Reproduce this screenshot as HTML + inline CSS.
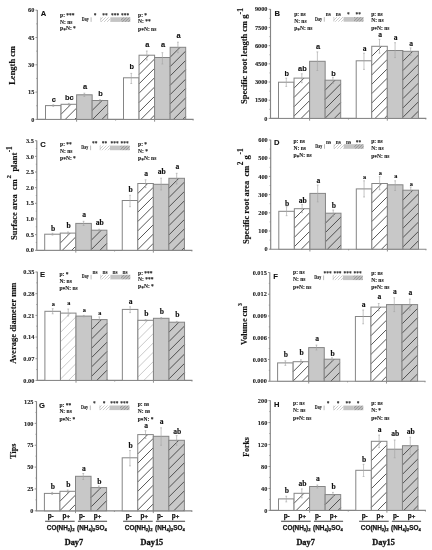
<!DOCTYPE html>
<html><head><meta charset="utf-8"><title>Root traits</title>
<style>html,body{margin:0;padding:0;background:#fff;} body{width:432px;height:550px;overflow:hidden;} svg{display:block;filter:blur(0.3px);}</style>
</head><body>
<svg width="432" height="550" viewBox="0 0 432 550"><defs>
<pattern id="lw" patternUnits="userSpaceOnUse" width="3" height="3"><rect width="3" height="3" fill="#fff"/><path d="M0,3 L3,0" stroke="#999" stroke-width="0.5"/></pattern>
<pattern id="lg" patternUnits="userSpaceOnUse" width="3" height="3"><rect width="3" height="3" fill="#bdbdbd"/><path d="M0,3 L3,0" stroke="#777" stroke-width="0.5"/></pattern>
</defs><path d="M37.3,9.9 V119.4 H193.6" fill="none" stroke="#858585" stroke-width="1.15"/>
<path d="M35.5,119.4 H37.3" stroke="#858585" stroke-width="0.9"/>
<text x="34.3" y="121.55" font-size="6.3" font-family="'Liberation Serif', 'Times New Roman', serif" font-weight="bold" text-anchor="end" fill="#1a1a1a" stroke="#1a1a1a" stroke-width="0.1">0</text>
<path d="M36.3,105.75 H37.3" stroke="#858585" stroke-width="0.8"/>
<path d="M35.5,92.1 H37.3" stroke="#858585" stroke-width="0.9"/>
<text x="34.3" y="94.25" font-size="6.3" font-family="'Liberation Serif', 'Times New Roman', serif" font-weight="bold" text-anchor="end" fill="#1a1a1a" stroke="#1a1a1a" stroke-width="0.1">15</text>
<path d="M36.3,78.45 H37.3" stroke="#858585" stroke-width="0.8"/>
<path d="M35.5,64.8 H37.3" stroke="#858585" stroke-width="0.9"/>
<text x="34.3" y="66.95" font-size="6.3" font-family="'Liberation Serif', 'Times New Roman', serif" font-weight="bold" text-anchor="end" fill="#1a1a1a" stroke="#1a1a1a" stroke-width="0.1">30</text>
<path d="M36.3,51.15 H37.3" stroke="#858585" stroke-width="0.8"/>
<path d="M35.5,37.5 H37.3" stroke="#858585" stroke-width="0.9"/>
<text x="34.3" y="39.65" font-size="6.3" font-family="'Liberation Serif', 'Times New Roman', serif" font-weight="bold" text-anchor="end" fill="#1a1a1a" stroke="#1a1a1a" stroke-width="0.1">45</text>
<path d="M36.3,23.85 H37.3" stroke="#858585" stroke-width="0.8"/>
<path d="M35.5,10.2 H37.3" stroke="#858585" stroke-width="0.9"/>
<text x="34.3" y="12.35" font-size="6.3" font-family="'Liberation Serif', 'Times New Roman', serif" font-weight="bold" text-anchor="end" fill="#1a1a1a" stroke="#1a1a1a" stroke-width="0.1">60</text>
<path d="M76.6,119.4 V121.7" stroke="#858585" stroke-width="0.9"/>
<path d="M154.6,119.4 V121.7" stroke="#858585" stroke-width="0.9"/>
<path d="M115.6,119.4 V120.6" stroke="#858585" stroke-width="0.8"/>
<path d="M193.1,119.4 V120.6" stroke="#858585" stroke-width="0.8"/>
<rect x="45.5" y="105.6" width="15.55" height="13.8" fill="#fff"/>
<rect x="45.5" y="105.6" width="15.55" height="13.8" fill="none" stroke="#858585" stroke-width="1"/>
<path d="M53.27,104.8 V106.4 M52.38,104.8 H54.17 M52.38,106.4 H54.17" stroke="#a6a6a6" stroke-width="0.65" fill="none"/>
<text x="53.88" y="102" font-size="7.4" font-family="'Liberation Sans', Arial, sans-serif" font-weight="bold" text-anchor="middle" fill="#111" stroke="#111" stroke-width="0.12">c</text>
<rect x="61.05" y="104.3" width="15.55" height="15.1" fill="#fff"/>
<path d="M61.05,114.25 L71,104.3 M65.25,119.4 L76.6,108.05 M74.6,119.4 L76.6,117.4" stroke="#383838" stroke-width="0.85" fill="none"/>
<rect x="61.05" y="104.3" width="15.55" height="15.1" fill="none" stroke="#858585" stroke-width="1"/>
<path d="M68.83,103.4 V105.2 M67.92,103.4 H69.73 M67.92,105.2 H69.73" stroke="#a6a6a6" stroke-width="0.65" fill="none"/>
<text x="69.42" y="100.4" font-size="7.4" font-family="'Liberation Sans', Arial, sans-serif" font-weight="bold" text-anchor="middle" fill="#111" stroke="#111" stroke-width="0.12">bc</text>
<rect x="76.6" y="94.8" width="15.55" height="24.6" fill="#c8c8c8"/>
<rect x="76.6" y="94.8" width="15.55" height="24.6" fill="none" stroke="#858585" stroke-width="1"/>
<path d="M84.38,93.2 V96.5 M83.47,93.2 H85.28 M83.47,96.5 H85.28" stroke="#a6a6a6" stroke-width="0.65" fill="none"/>
<text x="84.97" y="88.5" font-size="7.4" font-family="'Liberation Sans', Arial, sans-serif" font-weight="bold" text-anchor="middle" fill="#111" stroke="#111" stroke-width="0.12">a</text>
<rect x="92.15" y="100.5" width="15.55" height="18.9" fill="#c8c8c8"/>
<path d="M92.15,110.45 L102.1,100.5 M92.55,119.4 L107.7,104.25 M101.9,119.4 L107.7,113.6" stroke="#383838" stroke-width="0.85" fill="none"/>
<rect x="92.15" y="100.5" width="15.55" height="18.9" fill="none" stroke="#858585" stroke-width="1"/>
<path d="M99.93,99.7 V101.4 M99.03,99.7 H100.83 M99.03,101.4 H100.83" stroke="#a6a6a6" stroke-width="0.65" fill="none"/>
<text x="100.53" y="95.9" font-size="7.4" font-family="'Liberation Sans', Arial, sans-serif" font-weight="bold" text-anchor="middle" fill="#111" stroke="#111" stroke-width="0.12">b</text>
<rect x="123.5" y="77.8" width="15.55" height="41.6" fill="#fff"/>
<rect x="123.5" y="77.8" width="15.55" height="41.6" fill="none" stroke="#858585" stroke-width="1"/>
<path d="M131.28,73.4 V83.5 M130.38,73.4 H132.18 M130.38,83.5 H132.18" stroke="#a6a6a6" stroke-width="0.65" fill="none"/>
<text x="131.88" y="69.3" font-size="7.4" font-family="'Liberation Sans', Arial, sans-serif" font-weight="bold" text-anchor="middle" fill="#111" stroke="#111" stroke-width="0.12">b</text>
<rect x="139.05" y="55.2" width="15.55" height="64.2" fill="#fff"/>
<path d="M139.05,65.15 L149,55.2 M139.05,74.5 L154.6,58.95 M139.05,83.85 L154.6,68.3 M139.05,93.2 L154.6,77.65 M139.05,102.55 L154.6,87 M139.05,111.9 L154.6,96.35 M140.9,119.4 L154.6,105.7 M150.25,119.4 L154.6,115.05" stroke="#383838" stroke-width="0.85" fill="none"/>
<rect x="139.05" y="55.2" width="15.55" height="64.2" fill="none" stroke="#858585" stroke-width="1"/>
<path d="M146.83,51 V60 M145.93,51 H147.73 M145.93,60 H147.73" stroke="#a6a6a6" stroke-width="0.65" fill="none"/>
<text x="147.43" y="47.1" font-size="7.4" font-family="'Liberation Sans', Arial, sans-serif" font-weight="bold" text-anchor="middle" fill="#111" stroke="#111" stroke-width="0.12">a</text>
<rect x="154.6" y="57.5" width="15.55" height="61.9" fill="#c8c8c8"/>
<rect x="154.6" y="57.5" width="15.55" height="61.9" fill="none" stroke="#858585" stroke-width="1"/>
<path d="M162.38,52.7 V64 M161.47,52.7 H163.28 M161.47,64 H163.28" stroke="#a6a6a6" stroke-width="0.65" fill="none"/>
<text x="162.97" y="47.1" font-size="7.4" font-family="'Liberation Sans', Arial, sans-serif" font-weight="bold" text-anchor="middle" fill="#111" stroke="#111" stroke-width="0.12">a</text>
<rect x="170.15" y="47.3" width="15.55" height="72.1" fill="#c8c8c8"/>
<path d="M170.15,57.25 L180.1,47.3 M170.15,66.6 L185.7,51.05 M170.15,75.95 L185.7,60.4 M170.15,85.3 L185.7,69.75 M170.15,94.65 L185.7,79.1 M170.15,104 L185.7,88.45 M170.15,113.35 L185.7,97.8 M173.45,119.4 L185.7,107.15 M182.8,119.4 L185.7,116.5" stroke="#383838" stroke-width="0.85" fill="none"/>
<rect x="170.15" y="47.3" width="15.55" height="72.1" fill="none" stroke="#858585" stroke-width="1"/>
<path d="M177.93,42.2 V52.7 M177.03,42.2 H178.83 M177.03,52.7 H178.83" stroke="#a6a6a6" stroke-width="0.65" fill="none"/>
<text x="178.53" y="37.7" font-size="7.4" font-family="'Liberation Sans', Arial, sans-serif" font-weight="bold" text-anchor="middle" fill="#111" stroke="#111" stroke-width="0.12">a</text>
<text x="40.8" y="15.6" font-size="7.6" font-family="'Liberation Sans', Arial, sans-serif" font-weight="bold" text-anchor="start" fill="#111" stroke="#111" stroke-width="0.1">A</text>
<text x="60.1" y="17.1" font-size="5.5" font-family="'Liberation Serif', 'Times New Roman', serif" font-weight="bold" text-anchor="start" fill="#1a1a1a" stroke="#1a1a1a" stroke-width="0.1">p: ***</text>
<text x="60.1" y="23.7" font-size="5.5" font-family="'Liberation Serif', 'Times New Roman', serif" font-weight="bold" text-anchor="start" fill="#1a1a1a" stroke="#1a1a1a" stroke-width="0.1">N: ns</text>
<text x="60.1" y="30.3" font-size="5.5" font-family="'Liberation Serif', 'Times New Roman', serif" font-weight="bold" text-anchor="start" fill="#1a1a1a" stroke="#1a1a1a" stroke-width="0.1">p<tspan dy="1.3">*</tspan><tspan dy="-1.3">N</tspan>: *</text>
<text x="138.1" y="16.6" font-size="5.5" font-family="'Liberation Serif', 'Times New Roman', serif" font-weight="bold" text-anchor="start" fill="#1a1a1a" stroke="#1a1a1a" stroke-width="0.1">p: *</text>
<text x="138.1" y="23" font-size="5.5" font-family="'Liberation Serif', 'Times New Roman', serif" font-weight="bold" text-anchor="start" fill="#1a1a1a" stroke="#1a1a1a" stroke-width="0.1">N: **</text>
<text x="138.1" y="30.6" font-size="5.5" font-family="'Liberation Serif', 'Times New Roman', serif" font-weight="bold" text-anchor="start" fill="#1a1a1a" stroke="#1a1a1a" stroke-width="0.1">p<tspan dy="1.3">*</tspan><tspan dy="-1.3">N</tspan>: ns</text>
<text x="81.85" y="20.9" font-size="5.5" font-family="'Liberation Serif', 'Times New Roman', serif" font-weight="bold" text-anchor="start" fill="#1a1a1a" stroke="#1a1a1a" stroke-width="0.1" textLength="7" lengthAdjust="spacingAndGlyphs">Day</text>
<rect x="90.7" y="17.3" width="9.7" height="4.6" fill="#fff"/>
<rect x="100.4" y="17.3" width="10" height="4.6" fill="url(#lw)"/>
<rect x="110.4" y="17.3" width="10.3" height="4.6" fill="#c4c4c4"/>
<rect x="120.7" y="17.3" width="9.6" height="4.6" fill="url(#lg)"/>
<path d="M91.1,17.3 V21.9" stroke="#aaa" stroke-width="0.8"/>
<path d="M100.7,17.3 V21.9" stroke="#bbb" stroke-width="0.6"/>
<text x="95.15" y="16.6" font-size="5.4" font-family="'Liberation Serif', 'Times New Roman', serif" font-weight="bold" text-anchor="middle" fill="#222" stroke="#222" stroke-width="0.05">*</text>
<text x="105" y="16.6" font-size="5.4" font-family="'Liberation Serif', 'Times New Roman', serif" font-weight="bold" text-anchor="middle" fill="#222" stroke="#222" stroke-width="0.05">**</text>
<text x="115.15" y="16.6" font-size="5.4" font-family="'Liberation Serif', 'Times New Roman', serif" font-weight="bold" text-anchor="middle" fill="#222" stroke="#222" stroke-width="0.05">***</text>
<text x="125.1" y="16.6" font-size="5.4" font-family="'Liberation Serif', 'Times New Roman', serif" font-weight="bold" text-anchor="middle" fill="#222" stroke="#222" stroke-width="0.05">***</text>
<path d="M270.5,9 V118.4 H426.3" fill="none" stroke="#858585" stroke-width="1.15"/>
<path d="M268.7,118.4 H270.5" stroke="#858585" stroke-width="0.9"/>
<text x="267.5" y="120.55" font-size="6.3" font-family="'Liberation Serif', 'Times New Roman', serif" font-weight="bold" text-anchor="end" fill="#1a1a1a" stroke="#1a1a1a" stroke-width="0.1">0</text>
<path d="M269.5,109.31 H270.5" stroke="#858585" stroke-width="0.8"/>
<path d="M268.7,100.22 H270.5" stroke="#858585" stroke-width="0.9"/>
<text x="267.5" y="102.37" font-size="6.3" font-family="'Liberation Serif', 'Times New Roman', serif" font-weight="bold" text-anchor="end" fill="#1a1a1a" stroke="#1a1a1a" stroke-width="0.1">1500</text>
<path d="M269.5,91.12 H270.5" stroke="#858585" stroke-width="0.8"/>
<path d="M268.7,82.03 H270.5" stroke="#858585" stroke-width="0.9"/>
<text x="267.5" y="84.18" font-size="6.3" font-family="'Liberation Serif', 'Times New Roman', serif" font-weight="bold" text-anchor="end" fill="#1a1a1a" stroke="#1a1a1a" stroke-width="0.1">3000</text>
<path d="M269.5,72.94 H270.5" stroke="#858585" stroke-width="0.8"/>
<path d="M268.7,63.85 H270.5" stroke="#858585" stroke-width="0.9"/>
<text x="267.5" y="66" font-size="6.3" font-family="'Liberation Serif', 'Times New Roman', serif" font-weight="bold" text-anchor="end" fill="#1a1a1a" stroke="#1a1a1a" stroke-width="0.1">4500</text>
<path d="M269.5,54.76 H270.5" stroke="#858585" stroke-width="0.8"/>
<path d="M268.7,45.67 H270.5" stroke="#858585" stroke-width="0.9"/>
<text x="267.5" y="47.82" font-size="6.3" font-family="'Liberation Serif', 'Times New Roman', serif" font-weight="bold" text-anchor="end" fill="#1a1a1a" stroke="#1a1a1a" stroke-width="0.1">6000</text>
<path d="M269.5,36.58 H270.5" stroke="#858585" stroke-width="0.8"/>
<path d="M268.7,27.48 H270.5" stroke="#858585" stroke-width="0.9"/>
<text x="267.5" y="29.63" font-size="6.3" font-family="'Liberation Serif', 'Times New Roman', serif" font-weight="bold" text-anchor="end" fill="#1a1a1a" stroke="#1a1a1a" stroke-width="0.1">7500</text>
<path d="M269.5,18.39 H270.5" stroke="#858585" stroke-width="0.8"/>
<path d="M268.7,9.3 H270.5" stroke="#858585" stroke-width="0.9"/>
<text x="267.5" y="11.45" font-size="6.3" font-family="'Liberation Serif', 'Times New Roman', serif" font-weight="bold" text-anchor="end" fill="#1a1a1a" stroke="#1a1a1a" stroke-width="0.1">9000</text>
<path d="M309.6,118.4 V120.7" stroke="#858585" stroke-width="0.9"/>
<path d="M387.3,118.4 V120.7" stroke="#858585" stroke-width="0.9"/>
<path d="M348.45,118.4 V119.6" stroke="#858585" stroke-width="0.8"/>
<path d="M425.8,118.4 V119.6" stroke="#858585" stroke-width="0.8"/>
<rect x="278.5" y="82.2" width="15.55" height="36.2" fill="#fff"/>
<rect x="278.5" y="82.2" width="15.55" height="36.2" fill="none" stroke="#858585" stroke-width="1"/>
<path d="M286.27,78.1 V86.4 M285.38,78.1 H287.17 M285.38,86.4 H287.17" stroke="#a6a6a6" stroke-width="0.65" fill="none"/>
<text x="286.88" y="75.8" font-size="7.4" font-family="'Liberation Sans', Arial, sans-serif" font-weight="bold" text-anchor="middle" fill="#111" stroke="#111" stroke-width="0.12">b</text>
<rect x="294.05" y="78.1" width="15.55" height="40.3" fill="#fff"/>
<path d="M294.05,88.05 L304,78.1 M294.05,97.4 L309.6,81.85 M294.05,106.75 L309.6,91.2 M294.05,116.1 L309.6,100.55 M301.1,118.4 L309.6,109.9" stroke="#383838" stroke-width="0.85" fill="none"/>
<rect x="294.05" y="78.1" width="15.55" height="40.3" fill="none" stroke="#858585" stroke-width="1"/>
<path d="M301.82,73.8 V82.7 M300.93,73.8 H302.72 M300.93,82.7 H302.72" stroke="#a6a6a6" stroke-width="0.65" fill="none"/>
<text x="302.43" y="71.4" font-size="7.4" font-family="'Liberation Sans', Arial, sans-serif" font-weight="bold" text-anchor="middle" fill="#111" stroke="#111" stroke-width="0.12">ab</text>
<rect x="309.6" y="61.3" width="15.55" height="57.1" fill="#c8c8c8"/>
<rect x="309.6" y="61.3" width="15.55" height="57.1" fill="none" stroke="#858585" stroke-width="1"/>
<path d="M317.38,51.9 V70.5 M316.48,51.9 H318.27 M316.48,70.5 H318.27" stroke="#a6a6a6" stroke-width="0.65" fill="none"/>
<text x="317.98" y="49" font-size="7.4" font-family="'Liberation Sans', Arial, sans-serif" font-weight="bold" text-anchor="middle" fill="#111" stroke="#111" stroke-width="0.12">a</text>
<rect x="325.15" y="80.2" width="15.55" height="38.2" fill="#c8c8c8"/>
<path d="M325.15,90.15 L335.1,80.2 M325.15,99.5 L340.7,83.95 M325.15,108.85 L340.7,93.3 M325.15,118.2 L340.7,102.65 M334.3,118.4 L340.7,112" stroke="#383838" stroke-width="0.85" fill="none"/>
<rect x="325.15" y="80.2" width="15.55" height="38.2" fill="none" stroke="#858585" stroke-width="1"/>
<path d="M332.92,77.3 V83.5 M332.02,77.3 H333.82 M332.02,83.5 H333.82" stroke="#a6a6a6" stroke-width="0.65" fill="none"/>
<text x="333.52" y="75.5" font-size="7.4" font-family="'Liberation Sans', Arial, sans-serif" font-weight="bold" text-anchor="middle" fill="#111" stroke="#111" stroke-width="0.12">b</text>
<rect x="356.2" y="60.8" width="15.55" height="57.6" fill="#fff"/>
<rect x="356.2" y="60.8" width="15.55" height="57.6" fill="none" stroke="#858585" stroke-width="1"/>
<path d="M363.97,53.2 V69.4 M363.07,53.2 H364.87 M363.07,69.4 H364.87" stroke="#a6a6a6" stroke-width="0.65" fill="none"/>
<text x="364.57" y="51.2" font-size="7.6" font-family="'Liberation Serif', 'Times New Roman', serif" font-weight="bold" text-anchor="middle" fill="#111" stroke="#111" stroke-width="0.12">a</text>
<rect x="371.75" y="46.3" width="15.55" height="72.1" fill="#fff"/>
<path d="M371.75,56.25 L381.7,46.3 M371.75,65.6 L387.3,50.05 M371.75,74.95 L387.3,59.4 M371.75,84.3 L387.3,68.75 M371.75,93.65 L387.3,78.1 M371.75,103 L387.3,87.45 M371.75,112.35 L387.3,96.8 M375.05,118.4 L387.3,106.15 M384.4,118.4 L387.3,115.5" stroke="#383838" stroke-width="0.85" fill="none"/>
<rect x="371.75" y="46.3" width="15.55" height="72.1" fill="none" stroke="#858585" stroke-width="1"/>
<path d="M379.52,39.4 V53.2 M378.62,39.4 H380.42 M378.62,53.2 H380.42" stroke="#a6a6a6" stroke-width="0.65" fill="none"/>
<text x="380.12" y="36.6" font-size="7.6" font-family="'Liberation Serif', 'Times New Roman', serif" font-weight="bold" text-anchor="middle" fill="#111" stroke="#111" stroke-width="0.12">a</text>
<rect x="387.3" y="50.5" width="15.55" height="67.9" fill="#c8c8c8"/>
<rect x="387.3" y="50.5" width="15.55" height="67.9" fill="none" stroke="#858585" stroke-width="1"/>
<path d="M395.07,42.7 V57.6 M394.18,42.7 H395.97 M394.18,57.6 H395.97" stroke="#a6a6a6" stroke-width="0.65" fill="none"/>
<text x="395.68" y="40.3" font-size="7.6" font-family="'Liberation Serif', 'Times New Roman', serif" font-weight="bold" text-anchor="middle" fill="#111" stroke="#111" stroke-width="0.12">a</text>
<rect x="402.85" y="51.3" width="15.55" height="67.1" fill="#c8c8c8"/>
<path d="M402.85,61.25 L412.8,51.3 M402.85,70.6 L418.4,55.05 M402.85,79.95 L418.4,64.4 M402.85,89.3 L418.4,73.75 M402.85,98.65 L418.4,83.1 M402.85,108 L418.4,92.45 M402.85,117.35 L418.4,101.8 M411.15,118.4 L418.4,111.15" stroke="#383838" stroke-width="0.85" fill="none"/>
<rect x="402.85" y="51.3" width="15.55" height="67.1" fill="none" stroke="#858585" stroke-width="1"/>
<path d="M410.62,47.9 V55.3 M409.73,47.9 H411.52 M409.73,55.3 H411.52" stroke="#a6a6a6" stroke-width="0.65" fill="none"/>
<text x="411.23" y="45.9" font-size="7.6" font-family="'Liberation Serif', 'Times New Roman', serif" font-weight="bold" text-anchor="middle" fill="#111" stroke="#111" stroke-width="0.12">a</text>
<text x="274.6" y="15.6" font-size="7.6" font-family="'Liberation Sans', Arial, sans-serif" font-weight="bold" text-anchor="start" fill="#111" stroke="#111" stroke-width="0.1">B</text>
<text x="294.2" y="16.1" font-size="5.5" font-family="'Liberation Serif', 'Times New Roman', serif" font-weight="bold" text-anchor="start" fill="#1a1a1a" stroke="#1a1a1a" stroke-width="0.1">p: ns</text>
<text x="294.2" y="23.1" font-size="5.5" font-family="'Liberation Serif', 'Times New Roman', serif" font-weight="bold" text-anchor="start" fill="#1a1a1a" stroke="#1a1a1a" stroke-width="0.1">N: ns</text>
<text x="294.2" y="30.3" font-size="5.5" font-family="'Liberation Serif', 'Times New Roman', serif" font-weight="bold" text-anchor="start" fill="#1a1a1a" stroke="#1a1a1a" stroke-width="0.1">p<tspan dy="1.3">*</tspan><tspan dy="-1.3">N</tspan>: ns</text>
<text x="371.2" y="15.8" font-size="5.5" font-family="'Liberation Serif', 'Times New Roman', serif" font-weight="bold" text-anchor="start" fill="#1a1a1a" stroke="#1a1a1a" stroke-width="0.1">p: ns</text>
<text x="371.2" y="22.4" font-size="5.5" font-family="'Liberation Serif', 'Times New Roman', serif" font-weight="bold" text-anchor="start" fill="#1a1a1a" stroke="#1a1a1a" stroke-width="0.1">N: ns</text>
<text x="371.2" y="29.7" font-size="5.5" font-family="'Liberation Serif', 'Times New Roman', serif" font-weight="bold" text-anchor="start" fill="#1a1a1a" stroke="#1a1a1a" stroke-width="0.1">p<tspan dy="1.3">*</tspan><tspan dy="-1.3">N</tspan>: ns</text>
<text x="315.05" y="20.7" font-size="5.5" font-family="'Liberation Serif', 'Times New Roman', serif" font-weight="bold" text-anchor="start" fill="#1a1a1a" stroke="#1a1a1a" stroke-width="0.1" textLength="7" lengthAdjust="spacingAndGlyphs">Day</text>
<rect x="323.9" y="17.1" width="9.7" height="4.6" fill="#fff"/>
<rect x="333.6" y="17.1" width="10" height="4.6" fill="url(#lw)"/>
<rect x="343.6" y="17.1" width="10.3" height="4.6" fill="#c4c4c4"/>
<rect x="353.9" y="17.1" width="9.6" height="4.6" fill="url(#lg)"/>
<path d="M324.3,17.1 V21.7" stroke="#aaa" stroke-width="0.8"/>
<path d="M333.9,17.1 V21.7" stroke="#bbb" stroke-width="0.6"/>
<text x="328.35" y="16.4" font-size="5.4" font-family="'Liberation Serif', 'Times New Roman', serif" font-weight="bold" text-anchor="middle" fill="#222" stroke="#222" stroke-width="0.05">ns</text>
<text x="338.2" y="16.4" font-size="5.4" font-family="'Liberation Serif', 'Times New Roman', serif" font-weight="bold" text-anchor="middle" fill="#222" stroke="#222" stroke-width="0.05">ns</text>
<text x="348.35" y="16.4" font-size="5.4" font-family="'Liberation Serif', 'Times New Roman', serif" font-weight="bold" text-anchor="middle" fill="#222" stroke="#222" stroke-width="0.05">*</text>
<text x="358.3" y="16.4" font-size="5.4" font-family="'Liberation Serif', 'Times New Roman', serif" font-weight="bold" text-anchor="middle" fill="#222" stroke="#222" stroke-width="0.05">**</text>
<path d="M36.8,140.4 V250.3 H192.35" fill="none" stroke="#858585" stroke-width="1.15"/>
<path d="M35,250.3 H36.8" stroke="#858585" stroke-width="0.9"/>
<text x="33.8" y="252.45" font-size="6.3" font-family="'Liberation Serif', 'Times New Roman', serif" font-weight="bold" text-anchor="end" fill="#1a1a1a" stroke="#1a1a1a" stroke-width="0.1">0.0</text>
<path d="M35.8,242.47 H36.8" stroke="#858585" stroke-width="0.8"/>
<path d="M35,234.64 H36.8" stroke="#858585" stroke-width="0.9"/>
<text x="33.8" y="236.79" font-size="6.3" font-family="'Liberation Serif', 'Times New Roman', serif" font-weight="bold" text-anchor="end" fill="#1a1a1a" stroke="#1a1a1a" stroke-width="0.1">0.5</text>
<path d="M35.8,226.81 H36.8" stroke="#858585" stroke-width="0.8"/>
<path d="M35,218.99 H36.8" stroke="#858585" stroke-width="0.9"/>
<text x="33.8" y="221.14" font-size="6.3" font-family="'Liberation Serif', 'Times New Roman', serif" font-weight="bold" text-anchor="end" fill="#1a1a1a" stroke="#1a1a1a" stroke-width="0.1">1.0</text>
<path d="M35.8,211.16 H36.8" stroke="#858585" stroke-width="0.8"/>
<path d="M35,203.33 H36.8" stroke="#858585" stroke-width="0.9"/>
<text x="33.8" y="205.48" font-size="6.3" font-family="'Liberation Serif', 'Times New Roman', serif" font-weight="bold" text-anchor="end" fill="#1a1a1a" stroke="#1a1a1a" stroke-width="0.1">1.5</text>
<path d="M35.8,195.5 H36.8" stroke="#858585" stroke-width="0.8"/>
<path d="M35,187.67 H36.8" stroke="#858585" stroke-width="0.9"/>
<text x="33.8" y="189.82" font-size="6.3" font-family="'Liberation Serif', 'Times New Roman', serif" font-weight="bold" text-anchor="end" fill="#1a1a1a" stroke="#1a1a1a" stroke-width="0.1">2.0</text>
<path d="M35.8,179.84 H36.8" stroke="#858585" stroke-width="0.8"/>
<path d="M35,172.01 H36.8" stroke="#858585" stroke-width="0.9"/>
<text x="33.8" y="174.16" font-size="6.3" font-family="'Liberation Serif', 'Times New Roman', serif" font-weight="bold" text-anchor="end" fill="#1a1a1a" stroke="#1a1a1a" stroke-width="0.1">2.5</text>
<path d="M35.8,164.19 H36.8" stroke="#858585" stroke-width="0.8"/>
<path d="M35,156.36 H36.8" stroke="#858585" stroke-width="0.9"/>
<text x="33.8" y="158.51" font-size="6.3" font-family="'Liberation Serif', 'Times New Roman', serif" font-weight="bold" text-anchor="end" fill="#1a1a1a" stroke="#1a1a1a" stroke-width="0.1">3.0</text>
<path d="M35.8,148.53 H36.8" stroke="#858585" stroke-width="0.8"/>
<path d="M35,140.7 H36.8" stroke="#858585" stroke-width="0.9"/>
<text x="33.8" y="142.85" font-size="6.3" font-family="'Liberation Serif', 'Times New Roman', serif" font-weight="bold" text-anchor="end" fill="#1a1a1a" stroke="#1a1a1a" stroke-width="0.1">3.5</text>
<path d="M75.8,250.3 V252.6" stroke="#858585" stroke-width="0.9"/>
<path d="M153.35,250.3 V252.6" stroke="#858585" stroke-width="0.9"/>
<path d="M114.58,250.3 V251.5" stroke="#858585" stroke-width="0.8"/>
<path d="M191.85,250.3 V251.5" stroke="#858585" stroke-width="0.8"/>
<rect x="44.7" y="234.2" width="15.55" height="16.1" fill="#fff"/>
<rect x="44.7" y="234.2" width="15.55" height="16.1" fill="none" stroke="#858585" stroke-width="1"/>
<path d="M52.48,233.3 V235.1 M51.58,233.3 H53.38 M51.58,235.1 H53.38" stroke="#a6a6a6" stroke-width="0.65" fill="none"/>
<text x="53.08" y="230.6" font-size="7.6" font-family="'Liberation Serif', 'Times New Roman', serif" font-weight="bold" text-anchor="middle" fill="#111" stroke="#111" stroke-width="0.12">b</text>
<rect x="60.25" y="233.1" width="15.55" height="17.2" fill="#fff"/>
<path d="M60.25,243.05 L70.2,233.1 M62.35,250.3 L75.8,236.85 M71.7,250.3 L75.8,246.2" stroke="#383838" stroke-width="0.85" fill="none"/>
<rect x="60.25" y="233.1" width="15.55" height="17.2" fill="none" stroke="#858585" stroke-width="1"/>
<path d="M68.03,232 V234.2 M67.12,232 H68.93 M67.12,234.2 H68.93" stroke="#a6a6a6" stroke-width="0.65" fill="none"/>
<text x="68.62" y="227.8" font-size="7.6" font-family="'Liberation Serif', 'Times New Roman', serif" font-weight="bold" text-anchor="middle" fill="#111" stroke="#111" stroke-width="0.12">b</text>
<rect x="75.8" y="223.4" width="15.55" height="26.9" fill="#c8c8c8"/>
<rect x="75.8" y="223.4" width="15.55" height="26.9" fill="none" stroke="#858585" stroke-width="1"/>
<path d="M83.58,221.3 V225.5 M82.68,221.3 H84.48 M82.68,225.5 H84.48" stroke="#a6a6a6" stroke-width="0.65" fill="none"/>
<text x="84.18" y="217" font-size="7.6" font-family="'Liberation Serif', 'Times New Roman', serif" font-weight="bold" text-anchor="middle" fill="#111" stroke="#111" stroke-width="0.12">a</text>
<rect x="91.35" y="230.2" width="15.55" height="20.1" fill="#c8c8c8"/>
<path d="M91.35,240.15 L101.3,230.2 M91.35,249.5 L106.9,233.95 M99.9,250.3 L106.9,243.3" stroke="#383838" stroke-width="0.85" fill="none"/>
<rect x="91.35" y="230.2" width="15.55" height="20.1" fill="none" stroke="#858585" stroke-width="1"/>
<path d="M99.13,229.3 V231.1 M98.23,229.3 H100.03 M98.23,231.1 H100.03" stroke="#a6a6a6" stroke-width="0.65" fill="none"/>
<text x="99.73" y="225" font-size="7.6" font-family="'Liberation Serif', 'Times New Roman', serif" font-weight="bold" text-anchor="middle" fill="#111" stroke="#111" stroke-width="0.12">ab</text>
<rect x="122.25" y="200.5" width="15.55" height="49.8" fill="#fff"/>
<rect x="122.25" y="200.5" width="15.55" height="49.8" fill="none" stroke="#858585" stroke-width="1"/>
<path d="M130.03,195.3 V206.7 M129.12,195.3 H130.93 M129.12,206.7 H130.93" stroke="#a6a6a6" stroke-width="0.65" fill="none"/>
<text x="130.62" y="191.7" font-size="7.6" font-family="'Liberation Serif', 'Times New Roman', serif" font-weight="bold" text-anchor="middle" fill="#111" stroke="#111" stroke-width="0.12">b</text>
<rect x="137.8" y="183.5" width="15.55" height="66.8" fill="#fff"/>
<path d="M137.8,193.45 L147.75,183.5 M137.8,202.8 L153.35,187.25 M137.8,212.15 L153.35,196.6 M137.8,221.5 L153.35,205.95 M137.8,230.85 L153.35,215.3 M137.8,240.2 L153.35,224.65 M137.8,249.55 L153.35,234 M146.4,250.3 L153.35,243.35" stroke="#383838" stroke-width="0.85" fill="none"/>
<rect x="137.8" y="183.5" width="15.55" height="66.8" fill="none" stroke="#858585" stroke-width="1"/>
<path d="M145.58,179.8 V187.6 M144.68,179.8 H146.48 M144.68,187.6 H146.48" stroke="#a6a6a6" stroke-width="0.65" fill="none"/>
<text x="146.18" y="176.1" font-size="7.6" font-family="'Liberation Serif', 'Times New Roman', serif" font-weight="bold" text-anchor="middle" fill="#111" stroke="#111" stroke-width="0.12">a</text>
<rect x="153.35" y="184.3" width="15.55" height="66" fill="#c8c8c8"/>
<rect x="153.35" y="184.3" width="15.55" height="66" fill="none" stroke="#858585" stroke-width="1"/>
<path d="M161.12,178.2 V190 M160.22,178.2 H162.03 M160.22,190 H162.03" stroke="#a6a6a6" stroke-width="0.65" fill="none"/>
<text x="161.72" y="173.9" font-size="7.6" font-family="'Liberation Serif', 'Times New Roman', serif" font-weight="bold" text-anchor="middle" fill="#111" stroke="#111" stroke-width="0.12">ab</text>
<rect x="168.9" y="178.3" width="15.55" height="72" fill="#c8c8c8"/>
<path d="M168.9,188.25 L178.85,178.3 M168.9,197.6 L184.45,182.05 M168.9,206.95 L184.45,191.4 M168.9,216.3 L184.45,200.75 M168.9,225.65 L184.45,210.1 M168.9,235 L184.45,219.45 M168.9,244.35 L184.45,228.8 M172.3,250.3 L184.45,238.15 M181.65,250.3 L184.45,247.5" stroke="#383838" stroke-width="0.85" fill="none"/>
<rect x="168.9" y="178.3" width="15.55" height="72" fill="none" stroke="#858585" stroke-width="1"/>
<path d="M176.68,173.3 V184 M175.78,173.3 H177.58 M175.78,184 H177.58" stroke="#a6a6a6" stroke-width="0.65" fill="none"/>
<text x="177.28" y="169.3" font-size="7.6" font-family="'Liberation Serif', 'Times New Roman', serif" font-weight="bold" text-anchor="middle" fill="#111" stroke="#111" stroke-width="0.12">a</text>
<text x="40.3" y="146.7" font-size="7.6" font-family="'Liberation Sans', Arial, sans-serif" font-weight="bold" text-anchor="start" fill="#111" stroke="#111" stroke-width="0.1">C</text>
<text x="60.1" y="146.2" font-size="5.5" font-family="'Liberation Serif', 'Times New Roman', serif" font-weight="bold" text-anchor="start" fill="#1a1a1a" stroke="#1a1a1a" stroke-width="0.1">p: **</text>
<text x="60.1" y="153" font-size="5.5" font-family="'Liberation Serif', 'Times New Roman', serif" font-weight="bold" text-anchor="start" fill="#1a1a1a" stroke="#1a1a1a" stroke-width="0.1">N: ns</text>
<text x="60.1" y="160" font-size="5.5" font-family="'Liberation Serif', 'Times New Roman', serif" font-weight="bold" text-anchor="start" fill="#1a1a1a" stroke="#1a1a1a" stroke-width="0.1">p<tspan dy="1.3">*</tspan><tspan dy="-1.3">N</tspan>: *</text>
<text x="138.1" y="146.2" font-size="5.5" font-family="'Liberation Serif', 'Times New Roman', serif" font-weight="bold" text-anchor="start" fill="#1a1a1a" stroke="#1a1a1a" stroke-width="0.1">p: *</text>
<text x="138.1" y="152.7" font-size="5.5" font-family="'Liberation Serif', 'Times New Roman', serif" font-weight="bold" text-anchor="start" fill="#1a1a1a" stroke="#1a1a1a" stroke-width="0.1">N: *</text>
<text x="138.1" y="160.3" font-size="5.5" font-family="'Liberation Serif', 'Times New Roman', serif" font-weight="bold" text-anchor="start" fill="#1a1a1a" stroke="#1a1a1a" stroke-width="0.1">p<tspan dy="1.3">*</tspan><tspan dy="-1.3">N</tspan>: ns</text>
<text x="81.35" y="149.2" font-size="5.5" font-family="'Liberation Serif', 'Times New Roman', serif" font-weight="bold" text-anchor="start" fill="#1a1a1a" stroke="#1a1a1a" stroke-width="0.1" textLength="7" lengthAdjust="spacingAndGlyphs">Day</text>
<rect x="90.2" y="145.6" width="9.7" height="4.6" fill="#fff"/>
<rect x="99.9" y="145.6" width="10" height="4.6" fill="url(#lw)"/>
<rect x="109.9" y="145.6" width="10.3" height="4.6" fill="#c4c4c4"/>
<rect x="120.2" y="145.6" width="9.6" height="4.6" fill="url(#lg)"/>
<path d="M90.6,145.6 V150.2" stroke="#aaa" stroke-width="0.8"/>
<path d="M100.2,145.6 V150.2" stroke="#bbb" stroke-width="0.6"/>
<text x="94.65" y="144.9" font-size="5.4" font-family="'Liberation Serif', 'Times New Roman', serif" font-weight="bold" text-anchor="middle" fill="#222" stroke="#222" stroke-width="0.05">**</text>
<text x="104.5" y="144.9" font-size="5.4" font-family="'Liberation Serif', 'Times New Roman', serif" font-weight="bold" text-anchor="middle" fill="#222" stroke="#222" stroke-width="0.05">**</text>
<text x="114.65" y="144.9" font-size="5.4" font-family="'Liberation Serif', 'Times New Roman', serif" font-weight="bold" text-anchor="middle" fill="#222" stroke="#222" stroke-width="0.05">***</text>
<text x="124.6" y="144.9" font-size="5.4" font-family="'Liberation Serif', 'Times New Roman', serif" font-weight="bold" text-anchor="middle" fill="#222" stroke="#222" stroke-width="0.05">***</text>
<path d="M270.7,139.7 V249.2 H426.4" fill="none" stroke="#858585" stroke-width="1.15"/>
<path d="M268.9,249.2 H270.7" stroke="#858585" stroke-width="0.9"/>
<text x="267.7" y="251.35" font-size="6.3" font-family="'Liberation Serif', 'Times New Roman', serif" font-weight="bold" text-anchor="end" fill="#1a1a1a" stroke="#1a1a1a" stroke-width="0.1">0</text>
<path d="M269.7,240.1 H270.7" stroke="#858585" stroke-width="0.8"/>
<path d="M268.9,231 H270.7" stroke="#858585" stroke-width="0.9"/>
<text x="267.7" y="233.15" font-size="6.3" font-family="'Liberation Serif', 'Times New Roman', serif" font-weight="bold" text-anchor="end" fill="#1a1a1a" stroke="#1a1a1a" stroke-width="0.1">100</text>
<path d="M269.7,221.9 H270.7" stroke="#858585" stroke-width="0.8"/>
<path d="M268.9,212.8 H270.7" stroke="#858585" stroke-width="0.9"/>
<text x="267.7" y="214.95" font-size="6.3" font-family="'Liberation Serif', 'Times New Roman', serif" font-weight="bold" text-anchor="end" fill="#1a1a1a" stroke="#1a1a1a" stroke-width="0.1">200</text>
<path d="M269.7,203.7 H270.7" stroke="#858585" stroke-width="0.8"/>
<path d="M268.9,194.6 H270.7" stroke="#858585" stroke-width="0.9"/>
<text x="267.7" y="196.75" font-size="6.3" font-family="'Liberation Serif', 'Times New Roman', serif" font-weight="bold" text-anchor="end" fill="#1a1a1a" stroke="#1a1a1a" stroke-width="0.1">300</text>
<path d="M269.7,185.5 H270.7" stroke="#858585" stroke-width="0.8"/>
<path d="M268.9,176.4 H270.7" stroke="#858585" stroke-width="0.9"/>
<text x="267.7" y="178.55" font-size="6.3" font-family="'Liberation Serif', 'Times New Roman', serif" font-weight="bold" text-anchor="end" fill="#1a1a1a" stroke="#1a1a1a" stroke-width="0.1">400</text>
<path d="M269.7,167.3 H270.7" stroke="#858585" stroke-width="0.8"/>
<path d="M268.9,158.2 H270.7" stroke="#858585" stroke-width="0.9"/>
<text x="267.7" y="160.35" font-size="6.3" font-family="'Liberation Serif', 'Times New Roman', serif" font-weight="bold" text-anchor="end" fill="#1a1a1a" stroke="#1a1a1a" stroke-width="0.1">500</text>
<path d="M269.7,149.1 H270.7" stroke="#858585" stroke-width="0.8"/>
<path d="M268.9,140 H270.7" stroke="#858585" stroke-width="0.9"/>
<text x="267.7" y="142.15" font-size="6.3" font-family="'Liberation Serif', 'Times New Roman', serif" font-weight="bold" text-anchor="end" fill="#1a1a1a" stroke="#1a1a1a" stroke-width="0.1">600</text>
<path d="M309.9,249.2 V251.5" stroke="#858585" stroke-width="0.9"/>
<path d="M387.4,249.2 V251.5" stroke="#858585" stroke-width="0.9"/>
<path d="M348.65,249.2 V250.4" stroke="#858585" stroke-width="0.8"/>
<path d="M425.9,249.2 V250.4" stroke="#858585" stroke-width="0.8"/>
<rect x="278.8" y="211.3" width="15.55" height="37.9" fill="#fff"/>
<rect x="278.8" y="211.3" width="15.55" height="37.9" fill="none" stroke="#858585" stroke-width="1"/>
<path d="M286.57,206.7 V215.7 M285.68,206.7 H287.47 M285.68,215.7 H287.47" stroke="#a6a6a6" stroke-width="0.65" fill="none"/>
<text x="287.18" y="206.3" font-size="7.6" font-family="'Liberation Serif', 'Times New Roman', serif" font-weight="bold" text-anchor="middle" fill="#111" stroke="#111" stroke-width="0.12">b</text>
<rect x="294.35" y="208.7" width="15.55" height="40.5" fill="#fff"/>
<path d="M294.35,218.65 L304.3,208.7 M294.35,228 L309.9,212.45 M294.35,237.35 L309.9,221.8 M294.35,246.7 L309.9,231.15 M301.2,249.2 L309.9,240.5" stroke="#383838" stroke-width="0.85" fill="none"/>
<rect x="294.35" y="208.7" width="15.55" height="40.5" fill="none" stroke="#858585" stroke-width="1"/>
<path d="M302.12,204.6 V212.7 M301.23,204.6 H303.02 M301.23,212.7 H303.02" stroke="#a6a6a6" stroke-width="0.65" fill="none"/>
<text x="302.73" y="202.8" font-size="7.6" font-family="'Liberation Serif', 'Times New Roman', serif" font-weight="bold" text-anchor="middle" fill="#111" stroke="#111" stroke-width="0.12">ab</text>
<rect x="309.9" y="193.4" width="15.55" height="55.8" fill="#c8c8c8"/>
<rect x="309.9" y="193.4" width="15.55" height="55.8" fill="none" stroke="#858585" stroke-width="1"/>
<path d="M317.68,185 V201.9 M316.78,185 H318.57 M316.78,201.9 H318.57" stroke="#a6a6a6" stroke-width="0.65" fill="none"/>
<text x="318.28" y="182.8" font-size="7.6" font-family="'Liberation Serif', 'Times New Roman', serif" font-weight="bold" text-anchor="middle" fill="#111" stroke="#111" stroke-width="0.12">a</text>
<rect x="325.45" y="213.2" width="15.55" height="36" fill="#c8c8c8"/>
<path d="M325.45,223.15 L335.4,213.2 M325.45,232.5 L341,216.95 M325.45,241.85 L341,226.3 M327.45,249.2 L341,235.65 M336.8,249.2 L341,245" stroke="#383838" stroke-width="0.85" fill="none"/>
<rect x="325.45" y="213.2" width="15.55" height="36" fill="none" stroke="#858585" stroke-width="1"/>
<path d="M333.23,210 V216.5 M332.33,210 H334.12 M332.33,216.5 H334.12" stroke="#a6a6a6" stroke-width="0.65" fill="none"/>
<text x="333.83" y="208.4" font-size="7.6" font-family="'Liberation Serif', 'Times New Roman', serif" font-weight="bold" text-anchor="middle" fill="#111" stroke="#111" stroke-width="0.12">b</text>
<rect x="356.3" y="188.9" width="15.55" height="60.3" fill="#fff"/>
<rect x="356.3" y="188.9" width="15.55" height="60.3" fill="none" stroke="#858585" stroke-width="1"/>
<path d="M364.07,180.8 V197 M363.18,180.8 H364.97 M363.18,197 H364.97" stroke="#a6a6a6" stroke-width="0.65" fill="none"/>
<text x="364.68" y="178.8" font-size="6.3" font-family="'Liberation Serif', 'Times New Roman', serif" font-weight="bold" text-anchor="middle" fill="#111" stroke="#111" stroke-width="0.12">a</text>
<rect x="371.85" y="183.5" width="15.55" height="65.7" fill="#fff"/>
<path d="M371.85,193.45 L381.8,183.5 M371.85,202.8 L387.4,187.25 M371.85,212.15 L387.4,196.6 M371.85,221.5 L387.4,205.95 M371.85,230.85 L387.4,215.3 M371.85,240.2 L387.4,224.65 M372.2,249.2 L387.4,234 M381.55,249.2 L387.4,243.35" stroke="#383838" stroke-width="0.85" fill="none"/>
<rect x="371.85" y="183.5" width="15.55" height="65.7" fill="none" stroke="#858585" stroke-width="1"/>
<path d="M379.62,176.7 V189.7 M378.73,176.7 H380.52 M378.73,189.7 H380.52" stroke="#a6a6a6" stroke-width="0.65" fill="none"/>
<text x="380.23" y="174.7" font-size="6.3" font-family="'Liberation Serif', 'Times New Roman', serif" font-weight="bold" text-anchor="middle" fill="#111" stroke="#111" stroke-width="0.12">a</text>
<rect x="387.4" y="184.8" width="15.55" height="64.4" fill="#c8c8c8"/>
<rect x="387.4" y="184.8" width="15.55" height="64.4" fill="none" stroke="#858585" stroke-width="1"/>
<path d="M395.18,180.8 V190.5 M394.28,180.8 H396.07 M394.28,190.5 H396.07" stroke="#a6a6a6" stroke-width="0.65" fill="none"/>
<text x="395.78" y="177.5" font-size="6.3" font-family="'Liberation Serif', 'Times New Roman', serif" font-weight="bold" text-anchor="middle" fill="#111" stroke="#111" stroke-width="0.12">a</text>
<rect x="402.95" y="190.2" width="15.55" height="59" fill="#c8c8c8"/>
<path d="M402.95,200.15 L412.9,190.2 M402.95,209.5 L418.5,193.95 M402.95,218.85 L418.5,203.3 M402.95,228.2 L418.5,212.65 M402.95,237.55 L418.5,222 M402.95,246.9 L418.5,231.35 M410,249.2 L418.5,240.7" stroke="#383838" stroke-width="0.85" fill="none"/>
<rect x="402.95" y="190.2" width="15.55" height="59" fill="none" stroke="#858585" stroke-width="1"/>
<path d="M410.73,187 V192.5 M409.83,187 H411.62 M409.83,192.5 H411.62" stroke="#a6a6a6" stroke-width="0.65" fill="none"/>
<text x="411.33" y="186.1" font-size="6.3" font-family="'Liberation Serif', 'Times New Roman', serif" font-weight="bold" text-anchor="middle" fill="#111" stroke="#111" stroke-width="0.12">a</text>
<text x="274.1" y="145.4" font-size="7.6" font-family="'Liberation Sans', Arial, sans-serif" font-weight="bold" text-anchor="start" fill="#111" stroke="#111" stroke-width="0.1">D</text>
<text x="293.5" y="142.9" font-size="5.5" font-family="'Liberation Serif', 'Times New Roman', serif" font-weight="bold" text-anchor="start" fill="#1a1a1a" stroke="#1a1a1a" stroke-width="0.1">p: ns</text>
<text x="293.5" y="150.4" font-size="5.5" font-family="'Liberation Serif', 'Times New Roman', serif" font-weight="bold" text-anchor="start" fill="#1a1a1a" stroke="#1a1a1a" stroke-width="0.1">N: ns</text>
<text x="293.5" y="157.2" font-size="5.5" font-family="'Liberation Serif', 'Times New Roman', serif" font-weight="bold" text-anchor="start" fill="#1a1a1a" stroke="#1a1a1a" stroke-width="0.1">p<tspan dy="1.3">*</tspan><tspan dy="-1.3">N</tspan>: ns</text>
<text x="371.2" y="143.3" font-size="5.5" font-family="'Liberation Serif', 'Times New Roman', serif" font-weight="bold" text-anchor="start" fill="#1a1a1a" stroke="#1a1a1a" stroke-width="0.1">p: ns</text>
<text x="371.2" y="150.2" font-size="5.5" font-family="'Liberation Serif', 'Times New Roman', serif" font-weight="bold" text-anchor="start" fill="#1a1a1a" stroke="#1a1a1a" stroke-width="0.1">N: ns</text>
<text x="371.2" y="157.5" font-size="5.5" font-family="'Liberation Serif', 'Times New Roman', serif" font-weight="bold" text-anchor="start" fill="#1a1a1a" stroke="#1a1a1a" stroke-width="0.1">p<tspan dy="1.3">*</tspan><tspan dy="-1.3">N</tspan>: ns</text>
<text x="315.25" y="147.8" font-size="5.5" font-family="'Liberation Serif', 'Times New Roman', serif" font-weight="bold" text-anchor="start" fill="#1a1a1a" stroke="#1a1a1a" stroke-width="0.1" textLength="7" lengthAdjust="spacingAndGlyphs">Day</text>
<rect x="324.1" y="144.2" width="9.7" height="4.6" fill="#fff"/>
<rect x="333.8" y="144.2" width="10" height="4.6" fill="url(#lw)"/>
<rect x="343.8" y="144.2" width="10.3" height="4.6" fill="#c4c4c4"/>
<rect x="354.1" y="144.2" width="9.6" height="4.6" fill="url(#lg)"/>
<path d="M324.5,144.2 V148.8" stroke="#aaa" stroke-width="0.8"/>
<path d="M334.1,144.2 V148.8" stroke="#bbb" stroke-width="0.6"/>
<text x="328.55" y="143.5" font-size="5.4" font-family="'Liberation Serif', 'Times New Roman', serif" font-weight="bold" text-anchor="middle" fill="#222" stroke="#222" stroke-width="0.05">ns</text>
<text x="338.4" y="143.5" font-size="5.4" font-family="'Liberation Serif', 'Times New Roman', serif" font-weight="bold" text-anchor="middle" fill="#222" stroke="#222" stroke-width="0.05">ns</text>
<text x="348.55" y="143.5" font-size="5.4" font-family="'Liberation Serif', 'Times New Roman', serif" font-weight="bold" text-anchor="middle" fill="#222" stroke="#222" stroke-width="0.05">ns</text>
<text x="358.5" y="143.5" font-size="5.4" font-family="'Liberation Serif', 'Times New Roman', serif" font-weight="bold" text-anchor="middle" fill="#222" stroke="#222" stroke-width="0.05">**</text>
<path d="M37.3,271.7 V380.4 H192.45" fill="none" stroke="#858585" stroke-width="1.15"/>
<path d="M35.5,380.4 H37.3" stroke="#858585" stroke-width="0.9"/>
<text x="34.3" y="382.55" font-size="6.3" font-family="'Liberation Serif', 'Times New Roman', serif" font-weight="bold" text-anchor="end" fill="#1a1a1a" stroke="#1a1a1a" stroke-width="0.1">0.00</text>
<path d="M36.3,369.56 H37.3" stroke="#858585" stroke-width="0.8"/>
<path d="M35.5,358.72 H37.3" stroke="#858585" stroke-width="0.9"/>
<text x="34.3" y="360.87" font-size="6.3" font-family="'Liberation Serif', 'Times New Roman', serif" font-weight="bold" text-anchor="end" fill="#1a1a1a" stroke="#1a1a1a" stroke-width="0.1">0.07</text>
<path d="M36.3,347.88 H37.3" stroke="#858585" stroke-width="0.8"/>
<path d="M35.5,337.04 H37.3" stroke="#858585" stroke-width="0.9"/>
<text x="34.3" y="339.19" font-size="6.3" font-family="'Liberation Serif', 'Times New Roman', serif" font-weight="bold" text-anchor="end" fill="#1a1a1a" stroke="#1a1a1a" stroke-width="0.1">0.14</text>
<path d="M36.3,326.2 H37.3" stroke="#858585" stroke-width="0.8"/>
<path d="M35.5,315.36 H37.3" stroke="#858585" stroke-width="0.9"/>
<text x="34.3" y="317.51" font-size="6.3" font-family="'Liberation Serif', 'Times New Roman', serif" font-weight="bold" text-anchor="end" fill="#1a1a1a" stroke="#1a1a1a" stroke-width="0.1">0.21</text>
<path d="M36.3,304.52 H37.3" stroke="#858585" stroke-width="0.8"/>
<path d="M35.5,293.68 H37.3" stroke="#858585" stroke-width="0.9"/>
<text x="34.3" y="295.83" font-size="6.3" font-family="'Liberation Serif', 'Times New Roman', serif" font-weight="bold" text-anchor="end" fill="#1a1a1a" stroke="#1a1a1a" stroke-width="0.1">0.28</text>
<path d="M36.3,282.84 H37.3" stroke="#858585" stroke-width="0.8"/>
<path d="M35.5,272 H37.3" stroke="#858585" stroke-width="0.9"/>
<text x="34.3" y="274.15" font-size="6.3" font-family="'Liberation Serif', 'Times New Roman', serif" font-weight="bold" text-anchor="end" fill="#1a1a1a" stroke="#1a1a1a" stroke-width="0.1">0.35</text>
<path d="M76,380.4 V382.7" stroke="#858585" stroke-width="0.9"/>
<path d="M153.45,380.4 V382.7" stroke="#858585" stroke-width="0.9"/>
<path d="M114.72,380.4 V381.6" stroke="#858585" stroke-width="0.8"/>
<path d="M191.95,380.4 V381.6" stroke="#858585" stroke-width="0.8"/>
<rect x="44.9" y="311.3" width="15.55" height="69.1" fill="#fff"/>
<rect x="44.9" y="311.3" width="15.55" height="69.1" fill="none" stroke="#858585" stroke-width="1"/>
<path d="M52.67,308.7 V313.8 M51.77,308.7 H53.57 M51.77,313.8 H53.57" stroke="#a6a6a6" stroke-width="0.65" fill="none"/>
<text x="53.27" y="306" font-size="6.3" font-family="'Liberation Serif', 'Times New Roman', serif" font-weight="bold" text-anchor="middle" fill="#111" stroke="#111" stroke-width="0.12">a</text>
<rect x="60.45" y="313.1" width="15.55" height="67.3" fill="#fff"/>
<path d="M60.45,323.05 L70.4,313.1 M60.45,332.4 L76,316.85 M60.45,341.75 L76,326.2 M60.45,351.1 L76,335.55 M60.45,360.45 L76,344.9 M60.45,369.8 L76,354.25 M60.45,379.15 L76,363.6 M68.55,380.4 L76,372.95" stroke="#bdbdbd" stroke-width="0.8" fill="none"/>
<rect x="60.45" y="313.1" width="15.55" height="67.3" fill="none" stroke="#858585" stroke-width="1"/>
<path d="M68.23,309 V316 M67.33,309 H69.13 M67.33,316 H69.13" stroke="#a6a6a6" stroke-width="0.65" fill="none"/>
<text x="68.83" y="305.2" font-size="6.3" font-family="'Liberation Serif', 'Times New Roman', serif" font-weight="bold" text-anchor="middle" fill="#111" stroke="#111" stroke-width="0.12">a</text>
<rect x="76" y="316.1" width="15.55" height="64.3" fill="#c8c8c8"/>
<rect x="76" y="316.1" width="15.55" height="64.3" fill="none" stroke="#858585" stroke-width="1"/>
<path d="M83.78,315.4 V316.8 M82.88,315.4 H84.68 M82.88,316.8 H84.68" stroke="#a6a6a6" stroke-width="0.65" fill="none"/>
<text x="84.38" y="311.9" font-size="6.3" font-family="'Liberation Serif', 'Times New Roman', serif" font-weight="bold" text-anchor="middle" fill="#111" stroke="#111" stroke-width="0.12">a</text>
<rect x="91.55" y="319.6" width="15.55" height="60.8" fill="#c8c8c8"/>
<path d="M91.55,329.55 L101.5,319.6 M91.55,338.9 L107.1,323.35 M91.55,348.25 L107.1,332.7 M91.55,357.6 L107.1,342.05 M91.55,366.95 L107.1,351.4 M91.55,376.3 L107.1,360.75 M96.8,380.4 L107.1,370.1 M106.15,380.4 L107.1,379.45" stroke="#383838" stroke-width="0.85" fill="none"/>
<rect x="91.55" y="319.6" width="15.55" height="60.8" fill="none" stroke="#858585" stroke-width="1"/>
<path d="M99.33,316.9 V321.2 M98.43,316.9 H100.23 M98.43,321.2 H100.23" stroke="#a6a6a6" stroke-width="0.65" fill="none"/>
<text x="99.93" y="314.9" font-size="6.3" font-family="'Liberation Serif', 'Times New Roman', serif" font-weight="bold" text-anchor="middle" fill="#111" stroke="#111" stroke-width="0.12">a</text>
<rect x="122.35" y="309.4" width="15.55" height="71" fill="#fff"/>
<rect x="122.35" y="309.4" width="15.55" height="71" fill="none" stroke="#858585" stroke-width="1"/>
<path d="M130.12,306.8 V312.6 M129.22,306.8 H131.03 M129.22,312.6 H131.03" stroke="#a6a6a6" stroke-width="0.65" fill="none"/>
<text x="130.72" y="303.6" font-size="7.6" font-family="'Liberation Serif', 'Times New Roman', serif" font-weight="bold" text-anchor="middle" fill="#111" stroke="#111" stroke-width="0.12">a</text>
<rect x="137.9" y="320.3" width="15.55" height="60.1" fill="#fff"/>
<path d="M137.9,330.25 L147.85,320.3 M137.9,339.6 L153.45,324.05 M137.9,348.95 L153.45,333.4 M137.9,358.3 L153.45,342.75 M137.9,367.65 L153.45,352.1 M137.9,377 L153.45,361.45 M143.85,380.4 L153.45,370.8 M153.2,380.4 L153.45,380.15" stroke="#bdbdbd" stroke-width="0.8" fill="none"/>
<rect x="137.9" y="320.3" width="15.55" height="60.1" fill="none" stroke="#858585" stroke-width="1"/>
<path d="M145.68,319.6 V321 M144.78,319.6 H146.58 M144.78,321 H146.58" stroke="#a6a6a6" stroke-width="0.65" fill="none"/>
<text x="146.28" y="316.1" font-size="7.6" font-family="'Liberation Serif', 'Times New Roman', serif" font-weight="bold" text-anchor="middle" fill="#111" stroke="#111" stroke-width="0.12">b</text>
<rect x="153.45" y="318.3" width="15.55" height="62.1" fill="#c8c8c8"/>
<rect x="153.45" y="318.3" width="15.55" height="62.1" fill="none" stroke="#858585" stroke-width="1"/>
<path d="M161.22,317.6 V319 M160.32,317.6 H162.12 M160.32,319 H162.12" stroke="#a6a6a6" stroke-width="0.65" fill="none"/>
<text x="161.82" y="313.9" font-size="7.6" font-family="'Liberation Serif', 'Times New Roman', serif" font-weight="bold" text-anchor="middle" fill="#111" stroke="#111" stroke-width="0.12">b</text>
<rect x="169" y="322.2" width="15.55" height="58.2" fill="#c8c8c8"/>
<path d="M169,332.15 L178.95,322.2 M169,341.5 L184.55,325.95 M169,350.85 L184.55,335.3 M169,360.2 L184.55,344.65 M169,369.55 L184.55,354 M169,378.9 L184.55,363.35 M176.85,380.4 L184.55,372.7" stroke="#383838" stroke-width="0.85" fill="none"/>
<rect x="169" y="322.2" width="15.55" height="58.2" fill="none" stroke="#858585" stroke-width="1"/>
<path d="M176.78,321.4 V323 M175.88,321.4 H177.68 M175.88,323 H177.68" stroke="#a6a6a6" stroke-width="0.65" fill="none"/>
<text x="177.38" y="317.4" font-size="7.6" font-family="'Liberation Serif', 'Times New Roman', serif" font-weight="bold" text-anchor="middle" fill="#111" stroke="#111" stroke-width="0.12">b</text>
<text x="39.9" y="276.7" font-size="7.6" font-family="'Liberation Sans', Arial, sans-serif" font-weight="bold" text-anchor="start" fill="#111" stroke="#111" stroke-width="0.1">E</text>
<text x="59.4" y="276.2" font-size="5.5" font-family="'Liberation Serif', 'Times New Roman', serif" font-weight="bold" text-anchor="start" fill="#1a1a1a" stroke="#1a1a1a" stroke-width="0.1">p: *</text>
<text x="59.4" y="282.6" font-size="5.5" font-family="'Liberation Serif', 'Times New Roman', serif" font-weight="bold" text-anchor="start" fill="#1a1a1a" stroke="#1a1a1a" stroke-width="0.1">N: ns</text>
<text x="59.4" y="289.5" font-size="5.5" font-family="'Liberation Serif', 'Times New Roman', serif" font-weight="bold" text-anchor="start" fill="#1a1a1a" stroke="#1a1a1a" stroke-width="0.1">p<tspan dy="1.3">*</tspan><tspan dy="-1.3">N</tspan>: ns</text>
<text x="138.1" y="274.7" font-size="5.5" font-family="'Liberation Serif', 'Times New Roman', serif" font-weight="bold" text-anchor="start" fill="#1a1a1a" stroke="#1a1a1a" stroke-width="0.1">p: ***</text>
<text x="138.1" y="280.6" font-size="5.5" font-family="'Liberation Serif', 'Times New Roman', serif" font-weight="bold" text-anchor="start" fill="#1a1a1a" stroke="#1a1a1a" stroke-width="0.1">N: ***</text>
<text x="138.1" y="288.2" font-size="5.5" font-family="'Liberation Serif', 'Times New Roman', serif" font-weight="bold" text-anchor="start" fill="#1a1a1a" stroke="#1a1a1a" stroke-width="0.1">p<tspan dy="1.3">*</tspan><tspan dy="-1.3">N</tspan>: *</text>
<text x="81.85" y="278.4" font-size="5.5" font-family="'Liberation Serif', 'Times New Roman', serif" font-weight="bold" text-anchor="start" fill="#1a1a1a" stroke="#1a1a1a" stroke-width="0.1" textLength="7" lengthAdjust="spacingAndGlyphs">Day</text>
<rect x="90.7" y="274.8" width="9.7" height="4.6" fill="#fff"/>
<rect x="100.4" y="274.8" width="10" height="4.6" fill="url(#lw)"/>
<rect x="110.4" y="274.8" width="10.3" height="4.6" fill="#c4c4c4"/>
<rect x="120.7" y="274.8" width="9.6" height="4.6" fill="url(#lg)"/>
<path d="M91.1,274.8 V279.4" stroke="#aaa" stroke-width="0.8"/>
<path d="M100.7,274.8 V279.4" stroke="#bbb" stroke-width="0.6"/>
<text x="95.15" y="274.1" font-size="5.4" font-family="'Liberation Serif', 'Times New Roman', serif" font-weight="bold" text-anchor="middle" fill="#222" stroke="#222" stroke-width="0.05">ns</text>
<text x="105" y="274.1" font-size="5.4" font-family="'Liberation Serif', 'Times New Roman', serif" font-weight="bold" text-anchor="middle" fill="#222" stroke="#222" stroke-width="0.05">ns</text>
<text x="115.15" y="274.1" font-size="5.4" font-family="'Liberation Serif', 'Times New Roman', serif" font-weight="bold" text-anchor="middle" fill="#222" stroke="#222" stroke-width="0.05">ns</text>
<text x="125.1" y="274.1" font-size="5.4" font-family="'Liberation Serif', 'Times New Roman', serif" font-weight="bold" text-anchor="middle" fill="#222" stroke="#222" stroke-width="0.05">ns</text>
<path d="M269.8,272.2 V381.2 H425.5" fill="none" stroke="#858585" stroke-width="1.15"/>
<path d="M268,381.2 H269.8" stroke="#858585" stroke-width="0.9"/>
<text x="266.8" y="383.35" font-size="6.3" font-family="'Liberation Serif', 'Times New Roman', serif" font-weight="bold" text-anchor="end" fill="#1a1a1a" stroke="#1a1a1a" stroke-width="0.1">0.000</text>
<path d="M268.8,370.33 H269.8" stroke="#858585" stroke-width="0.8"/>
<path d="M268,359.46 H269.8" stroke="#858585" stroke-width="0.9"/>
<text x="266.8" y="361.61" font-size="6.3" font-family="'Liberation Serif', 'Times New Roman', serif" font-weight="bold" text-anchor="end" fill="#1a1a1a" stroke="#1a1a1a" stroke-width="0.1">0.003</text>
<path d="M268.8,348.59 H269.8" stroke="#858585" stroke-width="0.8"/>
<path d="M268,337.72 H269.8" stroke="#858585" stroke-width="0.9"/>
<text x="266.8" y="339.87" font-size="6.3" font-family="'Liberation Serif', 'Times New Roman', serif" font-weight="bold" text-anchor="end" fill="#1a1a1a" stroke="#1a1a1a" stroke-width="0.1">0.006</text>
<path d="M268.8,326.85 H269.8" stroke="#858585" stroke-width="0.8"/>
<path d="M268,315.98 H269.8" stroke="#858585" stroke-width="0.9"/>
<text x="266.8" y="318.13" font-size="6.3" font-family="'Liberation Serif', 'Times New Roman', serif" font-weight="bold" text-anchor="end" fill="#1a1a1a" stroke="#1a1a1a" stroke-width="0.1">0.009</text>
<path d="M268.8,305.11 H269.8" stroke="#858585" stroke-width="0.8"/>
<path d="M268,294.24 H269.8" stroke="#858585" stroke-width="0.9"/>
<text x="266.8" y="296.39" font-size="6.3" font-family="'Liberation Serif', 'Times New Roman', serif" font-weight="bold" text-anchor="end" fill="#1a1a1a" stroke="#1a1a1a" stroke-width="0.1">0.012</text>
<path d="M268.8,283.37 H269.8" stroke="#858585" stroke-width="0.8"/>
<path d="M268,272.5 H269.8" stroke="#858585" stroke-width="0.9"/>
<text x="266.8" y="274.65" font-size="6.3" font-family="'Liberation Serif', 'Times New Roman', serif" font-weight="bold" text-anchor="end" fill="#1a1a1a" stroke="#1a1a1a" stroke-width="0.1">0.015</text>
<path d="M308.7,381.2 V383.5" stroke="#858585" stroke-width="0.9"/>
<path d="M386.5,381.2 V383.5" stroke="#858585" stroke-width="0.9"/>
<path d="M347.6,381.2 V382.4" stroke="#858585" stroke-width="0.8"/>
<path d="M425,381.2 V382.4" stroke="#858585" stroke-width="0.8"/>
<rect x="277.6" y="362.9" width="15.55" height="18.3" fill="#fff"/>
<rect x="277.6" y="362.9" width="15.55" height="18.3" fill="none" stroke="#858585" stroke-width="1"/>
<path d="M285.38,360.8 V365.4 M284.48,360.8 H286.27 M284.48,365.4 H286.27" stroke="#a6a6a6" stroke-width="0.65" fill="none"/>
<text x="285.98" y="357.2" font-size="7.6" font-family="'Liberation Serif', 'Times New Roman', serif" font-weight="bold" text-anchor="middle" fill="#111" stroke="#111" stroke-width="0.12">b</text>
<rect x="293.15" y="361.7" width="15.55" height="19.5" fill="#fff"/>
<path d="M293.15,371.65 L303.1,361.7 M293.15,381 L308.7,365.45 M302.3,381.2 L308.7,374.8" stroke="#383838" stroke-width="0.85" fill="none"/>
<rect x="293.15" y="361.7" width="15.55" height="19.5" fill="none" stroke="#858585" stroke-width="1"/>
<path d="M300.93,359.8 V363.6 M300.03,359.8 H301.82 M300.03,363.6 H301.82" stroke="#a6a6a6" stroke-width="0.65" fill="none"/>
<text x="301.53" y="355.3" font-size="7.6" font-family="'Liberation Serif', 'Times New Roman', serif" font-weight="bold" text-anchor="middle" fill="#111" stroke="#111" stroke-width="0.12">b</text>
<rect x="308.7" y="347.6" width="15.55" height="33.6" fill="#c8c8c8"/>
<rect x="308.7" y="347.6" width="15.55" height="33.6" fill="none" stroke="#858585" stroke-width="1"/>
<path d="M316.48,345.1 V350 M315.58,345.1 H317.38 M315.58,350 H317.38" stroke="#a6a6a6" stroke-width="0.65" fill="none"/>
<text x="317.08" y="341" font-size="7.6" font-family="'Liberation Serif', 'Times New Roman', serif" font-weight="bold" text-anchor="middle" fill="#111" stroke="#111" stroke-width="0.12">a</text>
<rect x="324.25" y="359.2" width="15.55" height="22" fill="#c8c8c8"/>
<path d="M324.25,369.15 L334.2,359.2 M324.25,378.5 L339.8,362.95 M330.9,381.2 L339.8,372.3" stroke="#383838" stroke-width="0.85" fill="none"/>
<rect x="324.25" y="359.2" width="15.55" height="22" fill="none" stroke="#858585" stroke-width="1"/>
<path d="M332.02,357.8 V360.6 M331.12,357.8 H332.92 M331.12,360.6 H332.92" stroke="#a6a6a6" stroke-width="0.65" fill="none"/>
<text x="332.62" y="355.6" font-size="7.6" font-family="'Liberation Serif', 'Times New Roman', serif" font-weight="bold" text-anchor="middle" fill="#111" stroke="#111" stroke-width="0.12">b</text>
<rect x="355.4" y="316.5" width="15.55" height="64.7" fill="#fff"/>
<rect x="355.4" y="316.5" width="15.55" height="64.7" fill="none" stroke="#858585" stroke-width="1"/>
<path d="M363.17,310 V323.8 M362.27,310 H364.07 M362.27,323.8 H364.07" stroke="#a6a6a6" stroke-width="0.65" fill="none"/>
<text x="363.77" y="306.8" font-size="7.6" font-family="'Liberation Serif', 'Times New Roman', serif" font-weight="bold" text-anchor="middle" fill="#111" stroke="#111" stroke-width="0.12">a</text>
<rect x="370.95" y="307.1" width="15.55" height="74.1" fill="#fff"/>
<path d="M370.95,317.05 L380.9,307.1 M370.95,326.4 L386.5,310.85 M370.95,335.75 L386.5,320.2 M370.95,345.1 L386.5,329.55 M370.95,354.45 L386.5,338.9 M370.95,363.8 L386.5,348.25 M370.95,373.15 L386.5,357.6 M372.25,381.2 L386.5,366.95 M381.6,381.2 L386.5,376.3" stroke="#383838" stroke-width="0.85" fill="none"/>
<rect x="370.95" y="307.1" width="15.55" height="74.1" fill="none" stroke="#858585" stroke-width="1"/>
<path d="M378.72,303.5 V310.8 M377.82,303.5 H379.62 M377.82,310.8 H379.62" stroke="#a6a6a6" stroke-width="0.65" fill="none"/>
<text x="379.32" y="299.4" font-size="7.6" font-family="'Liberation Serif', 'Times New Roman', serif" font-weight="bold" text-anchor="middle" fill="#111" stroke="#111" stroke-width="0.12">a</text>
<rect x="386.5" y="304.6" width="15.55" height="76.6" fill="#c8c8c8"/>
<rect x="386.5" y="304.6" width="15.55" height="76.6" fill="none" stroke="#858585" stroke-width="1"/>
<path d="M394.27,297.8 V311.6 M393.38,297.8 H395.17 M393.38,311.6 H395.17" stroke="#a6a6a6" stroke-width="0.65" fill="none"/>
<text x="394.88" y="293.9" font-size="7.6" font-family="'Liberation Serif', 'Times New Roman', serif" font-weight="bold" text-anchor="middle" fill="#111" stroke="#111" stroke-width="0.12">a</text>
<rect x="402.05" y="304.6" width="15.55" height="76.6" fill="#c8c8c8"/>
<path d="M402.05,314.55 L412,304.6 M402.05,323.9 L417.6,308.35 M402.05,333.25 L417.6,317.7 M402.05,342.6 L417.6,327.05 M402.05,351.95 L417.6,336.4 M402.05,361.3 L417.6,345.75 M402.05,370.65 L417.6,355.1 M402.05,380 L417.6,364.45 M410.2,381.2 L417.6,373.8" stroke="#383838" stroke-width="0.85" fill="none"/>
<rect x="402.05" y="304.6" width="15.55" height="76.6" fill="none" stroke="#858585" stroke-width="1"/>
<path d="M409.82,299.1 V310 M408.92,299.1 H410.72 M408.92,310 H410.72" stroke="#a6a6a6" stroke-width="0.65" fill="none"/>
<text x="410.42" y="295" font-size="7.6" font-family="'Liberation Serif', 'Times New Roman', serif" font-weight="bold" text-anchor="middle" fill="#111" stroke="#111" stroke-width="0.12">a</text>
<text x="273.2" y="278.6" font-size="7.6" font-family="'Liberation Sans', Arial, sans-serif" font-weight="bold" text-anchor="start" fill="#111" stroke="#111" stroke-width="0.1">F</text>
<text x="293.1" y="274" font-size="5.5" font-family="'Liberation Serif', 'Times New Roman', serif" font-weight="bold" text-anchor="start" fill="#1a1a1a" stroke="#1a1a1a" stroke-width="0.1">p: ns</text>
<text x="293.1" y="281.2" font-size="5.5" font-family="'Liberation Serif', 'Times New Roman', serif" font-weight="bold" text-anchor="start" fill="#1a1a1a" stroke="#1a1a1a" stroke-width="0.1">N: ns</text>
<text x="293.1" y="288.8" font-size="5.5" font-family="'Liberation Serif', 'Times New Roman', serif" font-weight="bold" text-anchor="start" fill="#1a1a1a" stroke="#1a1a1a" stroke-width="0.1">p<tspan dy="1.3">*</tspan><tspan dy="-1.3">N</tspan>: ns</text>
<text x="371.2" y="274.6" font-size="5.5" font-family="'Liberation Serif', 'Times New Roman', serif" font-weight="bold" text-anchor="start" fill="#1a1a1a" stroke="#1a1a1a" stroke-width="0.1">p: ns</text>
<text x="371.2" y="281.5" font-size="5.5" font-family="'Liberation Serif', 'Times New Roman', serif" font-weight="bold" text-anchor="start" fill="#1a1a1a" stroke="#1a1a1a" stroke-width="0.1">N: ns</text>
<text x="371.2" y="288.8" font-size="5.5" font-family="'Liberation Serif', 'Times New Roman', serif" font-weight="bold" text-anchor="start" fill="#1a1a1a" stroke="#1a1a1a" stroke-width="0.1">p<tspan dy="1.3">*</tspan><tspan dy="-1.3">N</tspan>: ns</text>
<text x="314.35" y="279.1" font-size="5.5" font-family="'Liberation Serif', 'Times New Roman', serif" font-weight="bold" text-anchor="start" fill="#1a1a1a" stroke="#1a1a1a" stroke-width="0.1" textLength="7" lengthAdjust="spacingAndGlyphs">Day</text>
<rect x="323.2" y="275.5" width="9.7" height="4.6" fill="#fff"/>
<rect x="332.9" y="275.5" width="10" height="4.6" fill="url(#lw)"/>
<rect x="342.9" y="275.5" width="10.3" height="4.6" fill="#c4c4c4"/>
<rect x="353.2" y="275.5" width="9.6" height="4.6" fill="url(#lg)"/>
<path d="M323.6,275.5 V280.1" stroke="#aaa" stroke-width="0.8"/>
<path d="M333.2,275.5 V280.1" stroke="#bbb" stroke-width="0.6"/>
<text x="327.65" y="274.8" font-size="5.4" font-family="'Liberation Serif', 'Times New Roman', serif" font-weight="bold" text-anchor="middle" fill="#222" stroke="#222" stroke-width="0.05">***</text>
<text x="337.5" y="274.8" font-size="5.4" font-family="'Liberation Serif', 'Times New Roman', serif" font-weight="bold" text-anchor="middle" fill="#222" stroke="#222" stroke-width="0.05">***</text>
<text x="347.65" y="274.8" font-size="5.4" font-family="'Liberation Serif', 'Times New Roman', serif" font-weight="bold" text-anchor="middle" fill="#222" stroke="#222" stroke-width="0.05">***</text>
<text x="357.6" y="274.8" font-size="5.4" font-family="'Liberation Serif', 'Times New Roman', serif" font-weight="bold" text-anchor="middle" fill="#222" stroke="#222" stroke-width="0.05">***</text>
<path d="M36.5,401.2 V510.8 H192.3" fill="none" stroke="#858585" stroke-width="1.15"/>
<path d="M34.7,510.8 H36.5" stroke="#858585" stroke-width="0.9"/>
<text x="33.5" y="512.95" font-size="6.3" font-family="'Liberation Serif', 'Times New Roman', serif" font-weight="bold" text-anchor="end" fill="#1a1a1a" stroke="#1a1a1a" stroke-width="0.1">0</text>
<path d="M35.5,499.87 H36.5" stroke="#858585" stroke-width="0.8"/>
<path d="M34.7,488.94 H36.5" stroke="#858585" stroke-width="0.9"/>
<text x="33.5" y="491.09" font-size="6.3" font-family="'Liberation Serif', 'Times New Roman', serif" font-weight="bold" text-anchor="end" fill="#1a1a1a" stroke="#1a1a1a" stroke-width="0.1">25</text>
<path d="M35.5,478.01 H36.5" stroke="#858585" stroke-width="0.8"/>
<path d="M34.7,467.08 H36.5" stroke="#858585" stroke-width="0.9"/>
<text x="33.5" y="469.23" font-size="6.3" font-family="'Liberation Serif', 'Times New Roman', serif" font-weight="bold" text-anchor="end" fill="#1a1a1a" stroke="#1a1a1a" stroke-width="0.1">50</text>
<path d="M35.5,456.15 H36.5" stroke="#858585" stroke-width="0.8"/>
<path d="M34.7,445.22 H36.5" stroke="#858585" stroke-width="0.9"/>
<text x="33.5" y="447.37" font-size="6.3" font-family="'Liberation Serif', 'Times New Roman', serif" font-weight="bold" text-anchor="end" fill="#1a1a1a" stroke="#1a1a1a" stroke-width="0.1">75</text>
<path d="M35.5,434.29 H36.5" stroke="#858585" stroke-width="0.8"/>
<path d="M34.7,423.36 H36.5" stroke="#858585" stroke-width="0.9"/>
<text x="33.5" y="425.51" font-size="6.3" font-family="'Liberation Serif', 'Times New Roman', serif" font-weight="bold" text-anchor="end" fill="#1a1a1a" stroke="#1a1a1a" stroke-width="0.1">100</text>
<path d="M35.5,412.43 H36.5" stroke="#858585" stroke-width="0.8"/>
<path d="M34.7,401.5 H36.5" stroke="#858585" stroke-width="0.9"/>
<text x="33.5" y="403.65" font-size="6.3" font-family="'Liberation Serif', 'Times New Roman', serif" font-weight="bold" text-anchor="end" fill="#1a1a1a" stroke="#1a1a1a" stroke-width="0.1">125</text>
<path d="M75.5,510.8 V513.1" stroke="#858585" stroke-width="0.9"/>
<path d="M153.3,510.8 V513.1" stroke="#858585" stroke-width="0.9"/>
<path d="M114.4,510.8 V512" stroke="#858585" stroke-width="0.8"/>
<path d="M191.8,510.8 V512" stroke="#858585" stroke-width="0.8"/>
<rect x="44.4" y="493.4" width="15.55" height="17.4" fill="#fff"/>
<rect x="44.4" y="493.4" width="15.55" height="17.4" fill="none" stroke="#858585" stroke-width="1"/>
<path d="M52.17,492.4 V494.4 M51.27,492.4 H53.07 M51.27,494.4 H53.07" stroke="#a6a6a6" stroke-width="0.65" fill="none"/>
<text x="52.77" y="489.3" font-size="7.6" font-family="'Liberation Serif', 'Times New Roman', serif" font-weight="bold" text-anchor="middle" fill="#111" stroke="#111" stroke-width="0.12">b</text>
<rect x="59.95" y="491.3" width="15.55" height="19.5" fill="#fff"/>
<path d="M59.95,501.25 L69.9,491.3 M59.95,510.6 L75.5,495.05 M69.1,510.8 L75.5,504.4" stroke="#383838" stroke-width="0.85" fill="none"/>
<rect x="59.95" y="491.3" width="15.55" height="19.5" fill="none" stroke="#858585" stroke-width="1"/>
<path d="M67.73,490 V492.6 M66.83,490 H68.63 M66.83,492.6 H68.63" stroke="#a6a6a6" stroke-width="0.65" fill="none"/>
<text x="68.33" y="486.6" font-size="7.6" font-family="'Liberation Serif', 'Times New Roman', serif" font-weight="bold" text-anchor="middle" fill="#111" stroke="#111" stroke-width="0.12">b</text>
<rect x="75.5" y="476.3" width="15.55" height="34.5" fill="#c8c8c8"/>
<rect x="75.5" y="476.3" width="15.55" height="34.5" fill="none" stroke="#858585" stroke-width="1"/>
<path d="M83.28,473.5 V479.5 M82.38,473.5 H84.18 M82.38,479.5 H84.18" stroke="#a6a6a6" stroke-width="0.65" fill="none"/>
<text x="83.88" y="470.6" font-size="7.6" font-family="'Liberation Serif', 'Times New Roman', serif" font-weight="bold" text-anchor="middle" fill="#111" stroke="#111" stroke-width="0.12">a</text>
<rect x="91.05" y="487.6" width="15.55" height="23.2" fill="#c8c8c8"/>
<path d="M91.05,497.55 L101,487.6 M91.05,506.9 L106.6,491.35 M96.5,510.8 L106.6,500.7 M105.85,510.8 L106.6,510.05" stroke="#383838" stroke-width="0.85" fill="none"/>
<rect x="91.05" y="487.6" width="15.55" height="23.2" fill="none" stroke="#858585" stroke-width="1"/>
<path d="M98.83,486 V489.2 M97.93,486 H99.73 M97.93,489.2 H99.73" stroke="#a6a6a6" stroke-width="0.65" fill="none"/>
<text x="99.43" y="484" font-size="7.6" font-family="'Liberation Serif', 'Times New Roman', serif" font-weight="bold" text-anchor="middle" fill="#111" stroke="#111" stroke-width="0.12">b</text>
<rect x="122.2" y="457.8" width="15.55" height="53" fill="#fff"/>
<rect x="122.2" y="457.8" width="15.55" height="53" fill="none" stroke="#858585" stroke-width="1"/>
<path d="M129.97,450.5 V465.9 M129.07,450.5 H130.88 M129.07,465.9 H130.88" stroke="#a6a6a6" stroke-width="0.65" fill="none"/>
<text x="130.57" y="448.2" font-size="7.6" font-family="'Liberation Serif', 'Times New Roman', serif" font-weight="bold" text-anchor="middle" fill="#111" stroke="#111" stroke-width="0.12">b</text>
<rect x="137.75" y="434.6" width="15.55" height="76.2" fill="#fff"/>
<path d="M137.75,444.55 L147.7,434.6 M137.75,453.9 L153.3,438.35 M137.75,463.25 L153.3,447.7 M137.75,472.6 L153.3,457.05 M137.75,481.95 L153.3,466.4 M137.75,491.3 L153.3,475.75 M137.75,500.65 L153.3,485.1 M137.75,510 L153.3,494.45 M146.3,510.8 L153.3,503.8" stroke="#383838" stroke-width="0.85" fill="none"/>
<rect x="137.75" y="434.6" width="15.55" height="76.2" fill="none" stroke="#858585" stroke-width="1"/>
<path d="M145.53,430.7 V438.4 M144.62,430.7 H146.43 M144.62,438.4 H146.43" stroke="#a6a6a6" stroke-width="0.65" fill="none"/>
<text x="146.12" y="427.8" font-size="7.6" font-family="'Liberation Serif', 'Times New Roman', serif" font-weight="bold" text-anchor="middle" fill="#111" stroke="#111" stroke-width="0.12">a</text>
<rect x="153.3" y="436.3" width="15.55" height="74.5" fill="#c8c8c8"/>
<rect x="153.3" y="436.3" width="15.55" height="74.5" fill="none" stroke="#858585" stroke-width="1"/>
<path d="M161.08,427.8 V445.3 M160.18,427.8 H161.98 M160.18,445.3 H161.98" stroke="#a6a6a6" stroke-width="0.65" fill="none"/>
<text x="161.68" y="424.2" font-size="7.6" font-family="'Liberation Serif', 'Times New Roman', serif" font-weight="bold" text-anchor="middle" fill="#111" stroke="#111" stroke-width="0.12">a</text>
<rect x="168.85" y="440.3" width="15.55" height="70.5" fill="#c8c8c8"/>
<path d="M168.85,450.25 L178.8,440.3 M168.85,459.6 L184.4,444.05 M168.85,468.95 L184.4,453.4 M168.85,478.3 L184.4,462.75 M168.85,487.65 L184.4,472.1 M168.85,497 L184.4,481.45 M168.85,506.35 L184.4,490.8 M173.75,510.8 L184.4,500.15 M183.1,510.8 L184.4,509.5" stroke="#383838" stroke-width="0.85" fill="none"/>
<rect x="168.85" y="440.3" width="15.55" height="70.5" fill="none" stroke="#858585" stroke-width="1"/>
<path d="M176.63,435.6 V445.3 M175.73,435.6 H177.53 M175.73,445.3 H177.53" stroke="#a6a6a6" stroke-width="0.65" fill="none"/>
<text x="177.23" y="433.6" font-size="7.6" font-family="'Liberation Serif', 'Times New Roman', serif" font-weight="bold" text-anchor="middle" fill="#111" stroke="#111" stroke-width="0.12">ab</text>
<text x="39" y="407.7" font-size="7.6" font-family="'Liberation Sans', Arial, sans-serif" font-weight="bold" text-anchor="start" fill="#111" stroke="#111" stroke-width="0.1">G</text>
<text x="59.4" y="406.7" font-size="5.5" font-family="'Liberation Serif', 'Times New Roman', serif" font-weight="bold" text-anchor="start" fill="#1a1a1a" stroke="#1a1a1a" stroke-width="0.1">p: **</text>
<text x="59.4" y="413.3" font-size="5.5" font-family="'Liberation Serif', 'Times New Roman', serif" font-weight="bold" text-anchor="start" fill="#1a1a1a" stroke="#1a1a1a" stroke-width="0.1">N: ns</text>
<text x="59.4" y="420.6" font-size="5.5" font-family="'Liberation Serif', 'Times New Roman', serif" font-weight="bold" text-anchor="start" fill="#1a1a1a" stroke="#1a1a1a" stroke-width="0.1">p<tspan dy="1.3">*</tspan><tspan dy="-1.3">N</tspan>: *</text>
<text x="137.8" y="406" font-size="5.5" font-family="'Liberation Serif', 'Times New Roman', serif" font-weight="bold" text-anchor="start" fill="#1a1a1a" stroke="#1a1a1a" stroke-width="0.1">p: ns</text>
<text x="137.8" y="412.9" font-size="5.5" font-family="'Liberation Serif', 'Times New Roman', serif" font-weight="bold" text-anchor="start" fill="#1a1a1a" stroke="#1a1a1a" stroke-width="0.1">N: ns</text>
<text x="137.8" y="420.9" font-size="5.5" font-family="'Liberation Serif', 'Times New Roman', serif" font-weight="bold" text-anchor="start" fill="#1a1a1a" stroke="#1a1a1a" stroke-width="0.1">p<tspan dy="1.3">*</tspan><tspan dy="-1.3">N</tspan>: *</text>
<text x="81.05" y="409.1" font-size="5.5" font-family="'Liberation Serif', 'Times New Roman', serif" font-weight="bold" text-anchor="start" fill="#1a1a1a" stroke="#1a1a1a" stroke-width="0.1" textLength="7" lengthAdjust="spacingAndGlyphs">Day</text>
<rect x="89.9" y="405.5" width="9.7" height="4.6" fill="#fff"/>
<rect x="99.6" y="405.5" width="10" height="4.6" fill="url(#lw)"/>
<rect x="109.6" y="405.5" width="10.3" height="4.6" fill="#c4c4c4"/>
<rect x="119.9" y="405.5" width="9.6" height="4.6" fill="url(#lg)"/>
<path d="M90.3,405.5 V410.1" stroke="#aaa" stroke-width="0.8"/>
<path d="M99.9,405.5 V410.1" stroke="#bbb" stroke-width="0.6"/>
<text x="94.35" y="404.8" font-size="5.4" font-family="'Liberation Serif', 'Times New Roman', serif" font-weight="bold" text-anchor="middle" fill="#222" stroke="#222" stroke-width="0.05">*</text>
<text x="104.2" y="404.8" font-size="5.4" font-family="'Liberation Serif', 'Times New Roman', serif" font-weight="bold" text-anchor="middle" fill="#222" stroke="#222" stroke-width="0.05">*</text>
<text x="114.35" y="404.8" font-size="5.4" font-family="'Liberation Serif', 'Times New Roman', serif" font-weight="bold" text-anchor="middle" fill="#222" stroke="#222" stroke-width="0.05">***</text>
<text x="124.3" y="404.8" font-size="5.4" font-family="'Liberation Serif', 'Times New Roman', serif" font-weight="bold" text-anchor="middle" fill="#222" stroke="#222" stroke-width="0.05">***</text>
<path d="M270.3,400.3 V510.4 H425.9" fill="none" stroke="#858585" stroke-width="1.15"/>
<path d="M268.5,510.4 H270.3" stroke="#858585" stroke-width="0.9"/>
<text x="267.3" y="512.55" font-size="6.3" font-family="'Liberation Serif', 'Times New Roman', serif" font-weight="bold" text-anchor="end" fill="#1a1a1a" stroke="#1a1a1a" stroke-width="0.1">0</text>
<path d="M269.3,499.42 H270.3" stroke="#858585" stroke-width="0.8"/>
<path d="M268.5,488.44 H270.3" stroke="#858585" stroke-width="0.9"/>
<text x="267.3" y="490.59" font-size="6.3" font-family="'Liberation Serif', 'Times New Roman', serif" font-weight="bold" text-anchor="end" fill="#1a1a1a" stroke="#1a1a1a" stroke-width="0.1">40</text>
<path d="M269.3,477.46 H270.3" stroke="#858585" stroke-width="0.8"/>
<path d="M268.5,466.48 H270.3" stroke="#858585" stroke-width="0.9"/>
<text x="267.3" y="468.63" font-size="6.3" font-family="'Liberation Serif', 'Times New Roman', serif" font-weight="bold" text-anchor="end" fill="#1a1a1a" stroke="#1a1a1a" stroke-width="0.1">80</text>
<path d="M269.3,455.5 H270.3" stroke="#858585" stroke-width="0.8"/>
<path d="M268.5,444.52 H270.3" stroke="#858585" stroke-width="0.9"/>
<text x="267.3" y="446.67" font-size="6.3" font-family="'Liberation Serif', 'Times New Roman', serif" font-weight="bold" text-anchor="end" fill="#1a1a1a" stroke="#1a1a1a" stroke-width="0.1">120</text>
<path d="M269.3,433.54 H270.3" stroke="#858585" stroke-width="0.8"/>
<path d="M268.5,422.56 H270.3" stroke="#858585" stroke-width="0.9"/>
<text x="267.3" y="424.71" font-size="6.3" font-family="'Liberation Serif', 'Times New Roman', serif" font-weight="bold" text-anchor="end" fill="#1a1a1a" stroke="#1a1a1a" stroke-width="0.1">160</text>
<path d="M269.3,411.58 H270.3" stroke="#858585" stroke-width="0.8"/>
<path d="M268.5,400.6 H270.3" stroke="#858585" stroke-width="0.9"/>
<text x="267.3" y="402.75" font-size="6.3" font-family="'Liberation Serif', 'Times New Roman', serif" font-weight="bold" text-anchor="end" fill="#1a1a1a" stroke="#1a1a1a" stroke-width="0.1">200</text>
<path d="M309.6,510.4 V512.7" stroke="#858585" stroke-width="0.9"/>
<path d="M386.9,510.4 V512.7" stroke="#858585" stroke-width="0.9"/>
<path d="M348.25,510.4 V511.6" stroke="#858585" stroke-width="0.8"/>
<path d="M425.4,510.4 V511.6" stroke="#858585" stroke-width="0.8"/>
<rect x="278.5" y="498.9" width="15.55" height="11.5" fill="#fff"/>
<rect x="278.5" y="498.9" width="15.55" height="11.5" fill="none" stroke="#858585" stroke-width="1"/>
<path d="M286.27,496.2 V501.9 M285.38,496.2 H287.17 M285.38,501.9 H287.17" stroke="#a6a6a6" stroke-width="0.65" fill="none"/>
<text x="286.88" y="493" font-size="7.6" font-family="'Liberation Serif', 'Times New Roman', serif" font-weight="bold" text-anchor="middle" fill="#111" stroke="#111" stroke-width="0.12">b</text>
<rect x="294.05" y="493.3" width="15.55" height="17.1" fill="#fff"/>
<path d="M294.05,503.25 L304,493.3 M296.25,510.4 L309.6,497.05 M305.6,510.4 L309.6,506.4" stroke="#383838" stroke-width="0.85" fill="none"/>
<rect x="294.05" y="493.3" width="15.55" height="17.1" fill="none" stroke="#858585" stroke-width="1"/>
<path d="M301.82,488.9 V497.8 M300.93,488.9 H302.72 M300.93,497.8 H302.72" stroke="#a6a6a6" stroke-width="0.65" fill="none"/>
<text x="302.43" y="485.6" font-size="7.6" font-family="'Liberation Serif', 'Times New Roman', serif" font-weight="bold" text-anchor="middle" fill="#111" stroke="#111" stroke-width="0.12">ab</text>
<rect x="309.6" y="486.5" width="15.55" height="23.9" fill="#c8c8c8"/>
<rect x="309.6" y="486.5" width="15.55" height="23.9" fill="none" stroke="#858585" stroke-width="1"/>
<path d="M317.38,485 V488 M316.48,485 H318.27 M316.48,488 H318.27" stroke="#a6a6a6" stroke-width="0.65" fill="none"/>
<text x="317.98" y="480.7" font-size="7.6" font-family="'Liberation Serif', 'Times New Roman', serif" font-weight="bold" text-anchor="middle" fill="#111" stroke="#111" stroke-width="0.12">a</text>
<rect x="325.15" y="494.6" width="15.55" height="15.8" fill="#c8c8c8"/>
<path d="M325.15,504.55 L335.1,494.6 M328.65,510.4 L340.7,498.35 M338,510.4 L340.7,507.7" stroke="#383838" stroke-width="0.85" fill="none"/>
<rect x="325.15" y="494.6" width="15.55" height="15.8" fill="none" stroke="#858585" stroke-width="1"/>
<path d="M332.92,492.4 V496.8 M332.02,492.4 H333.82 M332.02,496.8 H333.82" stroke="#a6a6a6" stroke-width="0.65" fill="none"/>
<text x="333.52" y="488.5" font-size="7.6" font-family="'Liberation Serif', 'Times New Roman', serif" font-weight="bold" text-anchor="middle" fill="#111" stroke="#111" stroke-width="0.12">b</text>
<rect x="355.8" y="470.3" width="15.55" height="40.1" fill="#fff"/>
<rect x="355.8" y="470.3" width="15.55" height="40.1" fill="none" stroke="#858585" stroke-width="1"/>
<path d="M363.57,464.3 V476.5 M362.68,464.3 H364.47 M362.68,476.5 H364.47" stroke="#a6a6a6" stroke-width="0.65" fill="none"/>
<text x="364.18" y="461.8" font-size="7.6" font-family="'Liberation Serif', 'Times New Roman', serif" font-weight="bold" text-anchor="middle" fill="#111" stroke="#111" stroke-width="0.12">b</text>
<rect x="371.35" y="441.3" width="15.55" height="69.1" fill="#fff"/>
<path d="M371.35,451.25 L381.3,441.3 M371.35,460.6 L386.9,445.05 M371.35,469.95 L386.9,454.4 M371.35,479.3 L386.9,463.75 M371.35,488.65 L386.9,473.1 M371.35,498 L386.9,482.45 M371.35,507.35 L386.9,491.8 M377.65,510.4 L386.9,501.15" stroke="#383838" stroke-width="0.85" fill="none"/>
<rect x="371.35" y="441.3" width="15.55" height="69.1" fill="none" stroke="#858585" stroke-width="1"/>
<path d="M379.12,435.1 V447.6 M378.23,435.1 H380.02 M378.23,447.6 H380.02" stroke="#a6a6a6" stroke-width="0.65" fill="none"/>
<text x="379.73" y="431.5" font-size="7.6" font-family="'Liberation Serif', 'Times New Roman', serif" font-weight="bold" text-anchor="middle" fill="#111" stroke="#111" stroke-width="0.12">a</text>
<rect x="386.9" y="449.2" width="15.55" height="61.2" fill="#c8c8c8"/>
<rect x="386.9" y="449.2" width="15.55" height="61.2" fill="none" stroke="#858585" stroke-width="1"/>
<path d="M394.68,440 V457.8 M393.78,440 H395.57 M393.78,457.8 H395.57" stroke="#a6a6a6" stroke-width="0.65" fill="none"/>
<text x="395.28" y="436.3" font-size="7.6" font-family="'Liberation Serif', 'Times New Roman', serif" font-weight="bold" text-anchor="middle" fill="#111" stroke="#111" stroke-width="0.12">ab</text>
<rect x="402.45" y="445.7" width="15.55" height="64.7" fill="#c8c8c8"/>
<path d="M402.45,455.65 L412.4,445.7 M402.45,465 L418,449.45 M402.45,474.35 L418,458.8 M402.45,483.7 L418,468.15 M402.45,493.05 L418,477.5 M402.45,502.4 L418,486.85 M403.8,510.4 L418,496.2 M413.15,510.4 L418,505.55" stroke="#383838" stroke-width="0.85" fill="none"/>
<rect x="402.45" y="445.7" width="15.55" height="64.7" fill="none" stroke="#858585" stroke-width="1"/>
<path d="M410.23,437.2 V454.6 M409.33,437.2 H411.12 M409.33,454.6 H411.12" stroke="#a6a6a6" stroke-width="0.65" fill="none"/>
<text x="410.83" y="433.9" font-size="7.6" font-family="'Liberation Serif', 'Times New Roman', serif" font-weight="bold" text-anchor="middle" fill="#111" stroke="#111" stroke-width="0.12">ab</text>
<text x="273.9" y="406.6" font-size="7.6" font-family="'Liberation Sans', Arial, sans-serif" font-weight="bold" text-anchor="start" fill="#111" stroke="#111" stroke-width="0.1">H</text>
<text x="293.1" y="404.6" font-size="5.5" font-family="'Liberation Serif', 'Times New Roman', serif" font-weight="bold" text-anchor="start" fill="#1a1a1a" stroke="#1a1a1a" stroke-width="0.1">p: ns</text>
<text x="293.1" y="412.3" font-size="5.5" font-family="'Liberation Serif', 'Times New Roman', serif" font-weight="bold" text-anchor="start" fill="#1a1a1a" stroke="#1a1a1a" stroke-width="0.1">N: ns</text>
<text x="293.1" y="419.9" font-size="5.5" font-family="'Liberation Serif', 'Times New Roman', serif" font-weight="bold" text-anchor="start" fill="#1a1a1a" stroke="#1a1a1a" stroke-width="0.1">p<tspan dy="1.3">*</tspan><tspan dy="-1.3">N</tspan>: ns</text>
<text x="371.2" y="404.6" font-size="5.5" font-family="'Liberation Serif', 'Times New Roman', serif" font-weight="bold" text-anchor="start" fill="#1a1a1a" stroke="#1a1a1a" stroke-width="0.1">p: ns</text>
<text x="371.2" y="412.3" font-size="5.5" font-family="'Liberation Serif', 'Times New Roman', serif" font-weight="bold" text-anchor="start" fill="#1a1a1a" stroke="#1a1a1a" stroke-width="0.1">N: *</text>
<text x="371.2" y="419.9" font-size="5.5" font-family="'Liberation Serif', 'Times New Roman', serif" font-weight="bold" text-anchor="start" fill="#1a1a1a" stroke="#1a1a1a" stroke-width="0.1">p<tspan dy="1.3">*</tspan><tspan dy="-1.3">N</tspan>: ns</text>
<text x="314.85" y="409.2" font-size="5.5" font-family="'Liberation Serif', 'Times New Roman', serif" font-weight="bold" text-anchor="start" fill="#1a1a1a" stroke="#1a1a1a" stroke-width="0.1" textLength="7" lengthAdjust="spacingAndGlyphs">Day</text>
<rect x="323.7" y="405.6" width="9.7" height="4.6" fill="#fff"/>
<rect x="333.4" y="405.6" width="10" height="4.6" fill="url(#lw)"/>
<rect x="343.4" y="405.6" width="10.3" height="4.6" fill="#c4c4c4"/>
<rect x="353.7" y="405.6" width="9.6" height="4.6" fill="url(#lg)"/>
<path d="M324.1,405.6 V410.2" stroke="#aaa" stroke-width="0.8"/>
<path d="M333.7,405.6 V410.2" stroke="#bbb" stroke-width="0.6"/>
<text x="328.15" y="404.9" font-size="5.4" font-family="'Liberation Serif', 'Times New Roman', serif" font-weight="bold" text-anchor="middle" fill="#222" stroke="#222" stroke-width="0.05">*</text>
<text x="338" y="404.9" font-size="5.4" font-family="'Liberation Serif', 'Times New Roman', serif" font-weight="bold" text-anchor="middle" fill="#222" stroke="#222" stroke-width="0.05">*</text>
<text x="348.15" y="404.9" font-size="5.4" font-family="'Liberation Serif', 'Times New Roman', serif" font-weight="bold" text-anchor="middle" fill="#222" stroke="#222" stroke-width="0.05">**</text>
<text x="358.1" y="404.9" font-size="5.4" font-family="'Liberation Serif', 'Times New Roman', serif" font-weight="bold" text-anchor="middle" fill="#222" stroke="#222" stroke-width="0.05">*</text>
<text transform="translate(15.1,84.8) rotate(-90)" x="0" y="0" font-size="8.5" font-family="'Liberation Serif', 'Times New Roman', serif" font-weight="bold" text-anchor="start" fill="#111" stroke="#111" stroke-width="0.15">Length cm</text>
<text transform="translate(247.4,104) rotate(-90)" x="0" y="0" font-size="8.5" font-family="'Liberation Serif', 'Times New Roman', serif" font-weight="bold" text-anchor="start" fill="#111" stroke="#111" stroke-width="0.15">Specific root length cm g<tspan dy="-4.4" font-size="7.8">-1</tspan></text>
<text transform="translate(16.7,240) rotate(-90)" x="0" y="0" font-size="8.5" font-family="'Liberation Serif', 'Times New Roman', serif" font-weight="bold" text-anchor="start" fill="#111" stroke="#111" stroke-width="0.15">Surface area<tspan x="50.0">cm</tspan><tspan x="61.4" dy="-6.0" font-size="7">2</tspan><tspan x="68.4" dy="6.0">plant</tspan><tspan x="87.7" dy="-5.2" font-size="7.2">-1</tspan></text>
<text transform="translate(249.2,244.1) rotate(-90)" x="0" y="0" font-size="8.5" font-family="'Liberation Serif', 'Times New Roman', serif" font-weight="bold" text-anchor="start" fill="#111" stroke="#111" stroke-width="0.15">Specific root area<tspan x="67.7">cm</tspan><tspan x="78.9" dy="-6.6" font-size="7.4">2</tspan><tspan x="84.7" dy="6.6">g</tspan><tspan x="89.6" dy="-6.0" font-size="7.2">-1</tspan></text>
<text transform="translate(15.6,363.8) rotate(-90)" x="0" y="0" font-size="8.6" font-family="'Liberation Serif', 'Times New Roman', serif" font-weight="bold" text-anchor="start" fill="#111" stroke="#111" stroke-width="0.15">Average diameter mm</text>
<text transform="translate(247,345) rotate(-90)" x="0" y="0" font-size="8.2" font-family="'Liberation Serif', 'Times New Roman', serif" font-weight="bold" text-anchor="start" fill="#111" stroke="#111" stroke-width="0.15">Volume cm<tspan dy="-4.8" font-size="5.8">3</tspan></text>
<text transform="translate(16.2,451.2) rotate(-90)" x="0" y="0" font-size="8.0" font-family="'Liberation Serif', 'Times New Roman', serif" font-weight="bold" text-anchor="middle" fill="#111" stroke="#111" stroke-width="0.15">Tips</text>
<text transform="translate(249.1,456.8) rotate(-90)" x="0" y="0" font-size="7.9" font-family="'Liberation Serif', 'Times New Roman', serif" font-weight="bold" text-anchor="start" fill="#111" stroke="#111" stroke-width="0.15">Forks</text>
<text x="50.7" y="518" font-size="6.4" font-family="'Liberation Sans', Arial, sans-serif" font-weight="bold" text-anchor="middle" fill="#111" stroke="#111" stroke-width="0.25">p-</text>
<text x="66.3" y="518" font-size="6.4" font-family="'Liberation Sans', Arial, sans-serif" font-weight="bold" text-anchor="middle" fill="#111" stroke="#111" stroke-width="0.25">p<tspan font-size="6" dy="0.45">+</tspan></text>
<text x="81.9" y="518" font-size="6.4" font-family="'Liberation Sans', Arial, sans-serif" font-weight="bold" text-anchor="middle" fill="#111" stroke="#111" stroke-width="0.25">p-</text>
<text x="97.5" y="518" font-size="6.4" font-family="'Liberation Sans', Arial, sans-serif" font-weight="bold" text-anchor="middle" fill="#111" stroke="#111" stroke-width="0.25">p<tspan font-size="6" dy="0.45">+</tspan></text>
<path d="M45.1,521.2 H74.7 M77.9,521.2 H107.1" stroke="#444" stroke-width="1.1"/>
<text x="60.7" y="529.8" font-size="6.4" font-family="'Liberation Sans', Arial, sans-serif" font-weight="bold" text-anchor="middle" fill="#111" stroke="#111" stroke-width="0.25">CO(NH<tspan font-size="4.2" dy="1.3">2</tspan><tspan dy="-1.3">)</tspan><tspan font-size="4.2" dy="1.3">2</tspan></text>
<text x="91.9" y="529.8" font-size="6.4" font-family="'Liberation Sans', Arial, sans-serif" font-weight="bold" text-anchor="middle" fill="#111" stroke="#111" stroke-width="0.25">(NH<tspan font-size="4.2" dy="1.3">4</tspan><tspan dy="-1.3">)</tspan><tspan font-size="4.2" dy="1.3">2</tspan><tspan dy="-1.3">SO</tspan><tspan font-size="4.2" dy="1.3">4</tspan></text>
<text x="128.7" y="518" font-size="6.4" font-family="'Liberation Sans', Arial, sans-serif" font-weight="bold" text-anchor="middle" fill="#111" stroke="#111" stroke-width="0.25">p-</text>
<text x="144.3" y="518" font-size="6.4" font-family="'Liberation Sans', Arial, sans-serif" font-weight="bold" text-anchor="middle" fill="#111" stroke="#111" stroke-width="0.25">p<tspan font-size="6" dy="0.45">+</tspan></text>
<text x="159.9" y="518" font-size="6.4" font-family="'Liberation Sans', Arial, sans-serif" font-weight="bold" text-anchor="middle" fill="#111" stroke="#111" stroke-width="0.25">p-</text>
<text x="175.5" y="518" font-size="6.4" font-family="'Liberation Sans', Arial, sans-serif" font-weight="bold" text-anchor="middle" fill="#111" stroke="#111" stroke-width="0.25">p<tspan font-size="6" dy="0.45">+</tspan></text>
<path d="M123.1,521.2 H152.7 M155.9,521.2 H185.1" stroke="#444" stroke-width="1.1"/>
<text x="138.7" y="529.8" font-size="6.4" font-family="'Liberation Sans', Arial, sans-serif" font-weight="bold" text-anchor="middle" fill="#111" stroke="#111" stroke-width="0.25">CO(NH<tspan font-size="4.2" dy="1.3">2</tspan><tspan dy="-1.3">)</tspan><tspan font-size="4.2" dy="1.3">2</tspan></text>
<text x="169.9" y="529.8" font-size="6.4" font-family="'Liberation Sans', Arial, sans-serif" font-weight="bold" text-anchor="middle" fill="#111" stroke="#111" stroke-width="0.25">(NH<tspan font-size="4.2" dy="1.3">4</tspan><tspan dy="-1.3">)</tspan><tspan font-size="4.2" dy="1.3">2</tspan><tspan dy="-1.3">SO</tspan><tspan font-size="4.2" dy="1.3">4</tspan></text>
<text x="73.9" y="544.9" font-size="8.3" font-family="'Liberation Serif', 'Times New Roman', serif" font-weight="bold" text-anchor="middle" fill="#111" stroke="#111" stroke-width="0.3">Day7</text>
<text x="151.9" y="544.9" font-size="8.3" font-family="'Liberation Serif', 'Times New Roman', serif" font-weight="bold" text-anchor="middle" fill="#111" stroke="#111" stroke-width="0.3">Day15</text>
<text x="286.7" y="518" font-size="6.4" font-family="'Liberation Sans', Arial, sans-serif" font-weight="bold" text-anchor="middle" fill="#111" stroke="#111" stroke-width="0.25">p-</text>
<text x="302.3" y="518" font-size="6.4" font-family="'Liberation Sans', Arial, sans-serif" font-weight="bold" text-anchor="middle" fill="#111" stroke="#111" stroke-width="0.25">p<tspan font-size="6" dy="0.45">+</tspan></text>
<text x="317.9" y="518" font-size="6.4" font-family="'Liberation Sans', Arial, sans-serif" font-weight="bold" text-anchor="middle" fill="#111" stroke="#111" stroke-width="0.25">p-</text>
<text x="333.5" y="518" font-size="6.4" font-family="'Liberation Sans', Arial, sans-serif" font-weight="bold" text-anchor="middle" fill="#111" stroke="#111" stroke-width="0.25">p<tspan font-size="6" dy="0.45">+</tspan></text>
<path d="M281.1,521.2 H310.7 M313.9,521.2 H343.1" stroke="#444" stroke-width="1.1"/>
<text x="296.7" y="529.8" font-size="6.4" font-family="'Liberation Sans', Arial, sans-serif" font-weight="bold" text-anchor="middle" fill="#111" stroke="#111" stroke-width="0.25">CO(NH<tspan font-size="4.2" dy="1.3">2</tspan><tspan dy="-1.3">)</tspan><tspan font-size="4.2" dy="1.3">2</tspan></text>
<text x="327.9" y="529.8" font-size="6.4" font-family="'Liberation Sans', Arial, sans-serif" font-weight="bold" text-anchor="middle" fill="#111" stroke="#111" stroke-width="0.25">(NH<tspan font-size="4.2" dy="1.3">4</tspan><tspan dy="-1.3">)</tspan><tspan font-size="4.2" dy="1.3">2</tspan><tspan dy="-1.3">SO</tspan><tspan font-size="4.2" dy="1.3">4</tspan></text>
<text x="364.7" y="518" font-size="6.4" font-family="'Liberation Sans', Arial, sans-serif" font-weight="bold" text-anchor="middle" fill="#111" stroke="#111" stroke-width="0.25">p-</text>
<text x="380.3" y="518" font-size="6.4" font-family="'Liberation Sans', Arial, sans-serif" font-weight="bold" text-anchor="middle" fill="#111" stroke="#111" stroke-width="0.25">p<tspan font-size="6" dy="0.45">+</tspan></text>
<text x="395.9" y="518" font-size="6.4" font-family="'Liberation Sans', Arial, sans-serif" font-weight="bold" text-anchor="middle" fill="#111" stroke="#111" stroke-width="0.25">p-</text>
<text x="411.5" y="518" font-size="6.4" font-family="'Liberation Sans', Arial, sans-serif" font-weight="bold" text-anchor="middle" fill="#111" stroke="#111" stroke-width="0.25">p<tspan font-size="6" dy="0.45">+</tspan></text>
<path d="M359.1,521.2 H388.7 M391.9,521.2 H421.1" stroke="#444" stroke-width="1.1"/>
<text x="374.7" y="529.8" font-size="6.4" font-family="'Liberation Sans', Arial, sans-serif" font-weight="bold" text-anchor="middle" fill="#111" stroke="#111" stroke-width="0.25">CO(NH<tspan font-size="4.2" dy="1.3">2</tspan><tspan dy="-1.3">)</tspan><tspan font-size="4.2" dy="1.3">2</tspan></text>
<text x="405.9" y="529.8" font-size="6.4" font-family="'Liberation Sans', Arial, sans-serif" font-weight="bold" text-anchor="middle" fill="#111" stroke="#111" stroke-width="0.25">(NH<tspan font-size="4.2" dy="1.3">4</tspan><tspan dy="-1.3">)</tspan><tspan font-size="4.2" dy="1.3">2</tspan><tspan dy="-1.3">SO</tspan><tspan font-size="4.2" dy="1.3">4</tspan></text>
<text x="305.6" y="544.9" font-size="8.3" font-family="'Liberation Serif', 'Times New Roman', serif" font-weight="bold" text-anchor="middle" fill="#111" stroke="#111" stroke-width="0.3">Day7</text>
<text x="383.6" y="544.9" font-size="8.3" font-family="'Liberation Serif', 'Times New Roman', serif" font-weight="bold" text-anchor="middle" fill="#111" stroke="#111" stroke-width="0.3">Day15</text></svg>
</body></html>
